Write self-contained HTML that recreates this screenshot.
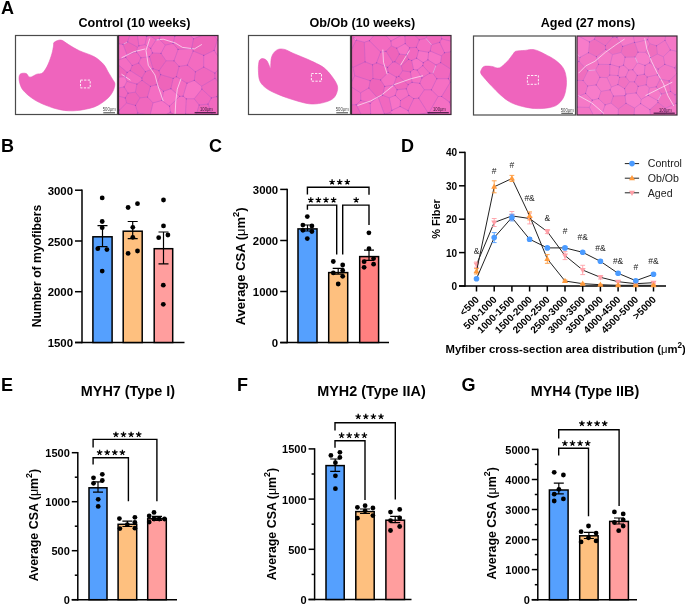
<!DOCTYPE html>
<html><head><meta charset="utf-8"><style>
html,body{margin:0;padding:0;background:#fff;}
svg{display:block;will-change:transform;font-family:"Liberation Sans",sans-serif;}
</style></head><body>
<svg width="685" height="605" viewBox="0 0 685 605" font-family="Liberation Sans, sans-serif">
<rect width="685" height="605" fill="#fff"/>
<text x="1" y="14" font-size="18" font-weight="bold">A</text>
<text x="134.5" y="27.4" font-size="12.6" font-weight="bold" text-anchor="middle">Control (10 weeks)</text>
<text x="362.4" y="27.4" font-size="12.6" font-weight="bold" text-anchor="middle">Ob/Ob (10 weeks)</text>
<text x="587.9" y="27.4" font-size="12.6" font-weight="bold" text-anchor="middle">Aged (27 mons)</text>
<rect x="15.5" y="35.5" width="102.0" height="79.0" fill="#fff" stroke="#4a4a4a" stroke-width="1.2"/>
<path d="M54.2 42.3C55.5 41.3 58.6 39.7 61 40.1C63.4 40.5 65.5 42.8 68.6 44.6C71.6 46.4 75 48.7 79.3 50.7C83.6 52.7 90.4 54.5 94.4 56.8C98.4 59.1 101.2 61.8 103.5 64.3C105.8 66.8 106.6 69.4 108.1 71.9C109.6 74.4 111.6 77.5 112.7 79.5C113.8 81.5 114.9 82.1 114.9 84.1C114.9 86.1 114.1 89.2 112.7 91.7C111.3 94.2 109.6 96.8 106.6 99.3C103.5 101.8 99.5 105 94.4 106.9C89.3 108.8 81.8 110.1 76.2 110.6C70.6 111.1 66 110.8 61 109.9C56 109 50.4 107.1 45.9 105.3C41.4 103.5 37.5 101.8 33.7 99.3C29.9 96.8 25.5 93.2 23.1 90.2C20.7 87.2 19.8 83.7 19.3 81C18.8 78.3 19 75.5 20.1 74.2C21.2 73 24.5 73 26.1 73.5C27.7 74 28.1 77.1 29.9 77.2C31.7 77.3 34.6 75 36.8 74.2C38.9 73.5 40.9 74.4 42.8 72.7C44.7 71 46.6 67.5 48.1 64.3C49.6 61.1 51 56.7 51.9 53.7C52.8 50.7 53.1 48 53.5 46.1C53.9 44.2 53 43.3 54.2 42.3Z" fill="#ef64bd" stroke="#e65bb6" stroke-width="0.6"/>
<rect x="80.5" y="80.1" width="9.700000000000003" height="7.800000000000011" fill="none" stroke="#fff" stroke-width="0.9" stroke-dasharray="2.3 1.3"/>
<text x="115.7" y="111.2" font-size="5" text-anchor="end" fill="#444" textLength="13" lengthAdjust="spacingAndGlyphs">500μm</text>
<line x1="103.3" x2="115.0" y1="112.8" y2="112.8" stroke="#444" stroke-width="1"/>
<clipPath id="c11"><rect x="118.5" y="35.5" width="99.5" height="79.0"/></clipPath>
<g clip-path="url(#c11)">
<rect x="118.5" y="35.5" width="99.5" height="79.0" fill="#f06ac2"/>
<polygon points="128,93.2 124.1,86.9 116.3,88.4 116.2,95.5 125.3,97.9" fill="#f168bf"/><polygon points="174,60.8 166.1,60.8 159,70.7 160.6,74.6 173.2,78.4 176.4,76.7 179.1,66.4" fill="#f067bd"/><polygon points="169.5,106.2 179.7,96.3 183.1,96.2 186.3,98.8 185.5,114 179.3,118.3 170.4,112.1" fill="#f56fc3"/><polygon points="118.8,43.7 114.6,35.1 -889.1,35.1 -905.6,51.4 111.7,51.4" fill="#f46dc2"/><polygon points="140.9,57.8 138.7,63 132.2,65.5 125.7,57.4 127,54.8 136.6,51.9" fill="#f168bf"/><polygon points="214.1,50.4 223.2,64.3 1255.4,64.3 1230.6,40.1 217.5,40.1" fill="#f56fc3"/><polygon points="117.6,116 117.6,1121.6 -888,116" fill="#f067bd"/><polygon points="119.4,114 132.7,118 132.7,1136.9 117.6,1121.6 117.6,116" fill="#f36bc0"/><polygon points="1255.4,64.3 1266.6,75 1254.2,86.9 222.6,86.9 215,78.3 214.9,73.1 223.2,64.3" fill="#f168bf"/><polygon points="179.1,66.4 187.4,65.1 195.4,71.8 194.3,80.4 187,83.2 176.4,76.7" fill="#f168bf"/><polygon points="149.5,56.7 153,68.7 159,70.7 166.1,60.8 161,53.4 152.4,52.9" fill="#ee64ba"/><polygon points="153,102.9 150,115.3 154.4,121.7 170.4,112.1 169.5,106.2 161.8,100.5" fill="#f773c6"/><polygon points="184.8,29.8 184.8,-1006.5 211.1,-979.4 211.1,31.8 193.5,38.8" fill="#f773c6"/><polygon points="137.2,34.2 140.1,32.7 145.7,14.4 145.7,-1000.3 123.2,-977.2 123.2,23.1 130.5,33.4" fill="#ee64ba"/><polygon points="125.7,57.4 118.7,59.9 117.3,64 127.2,72.4 130.2,70.6 132.2,65.5" fill="#f46dc2"/><polygon points="191.7,48.4 193.2,51 203.7,55.4 214.1,50.4 217.5,40.1 211.1,31.8 193.5,38.8" fill="#ee64ba"/><polygon points="194.2,98.8 186.3,98.8 185.5,114 196,115.3 199.2,105" fill="#f46dc2"/><polygon points="163.5,91.3 170.9,88.7 179.7,96.3 169.5,106.2 161.8,100.5" fill="#f773c6"/><polygon points="195.4,71.8 194.3,80.4 201.6,86.2 215,78.3 214.9,73.1 203.7,67.1" fill="#f067bd"/><polygon points="176.4,76.7 187,83.2 183.1,96.2 179.7,96.3 170.9,88.7 173.2,78.4" fill="#f36bc0"/><polygon points="227.2,110.1 1230.4,110.1 217.6,1122.9 217.6,116.1" fill="#f46dc2"/><polygon points="153,102.9 150,115.3 137.8,113 135.5,105.4 139.9,97.9 147.5,97" fill="#f067bd"/><polygon points="154.4,121.7 154.4,1159.2 168.2,1173.9 179.3,1162.2 179.3,118.3 170.4,112.1" fill="#ee64ba"/><polygon points="174,60.8 178.1,49.4 173.1,43.4 165.3,45.1 161,53.4 166.1,60.8" fill="#f46dc2"/><polygon points="156.2,84.8 160.6,74.6 159,70.7 153,68.7 145.4,71.7 141.9,78 142,80.3 150.5,86.4" fill="#ee64ba"/><polygon points="178.1,49.4 191.7,48.4 193.5,38.8 184.8,29.8 174.8,36.2 173.1,43.4" fill="#f168bf"/><polygon points="132.2,65.5 130.2,70.6 141.9,78 145.4,71.7 138.7,63" fill="#ee64ba"/><polygon points="194.2,98.8 201.9,89.1 211.4,97.9 208,104.1 199.2,105" fill="#f168bf"/><polygon points="212,114 199.8,119.5 199.8,1141 217.6,1122.9 217.6,116.1" fill="#f46dc2"/><polygon points="126.6,103 119.5,110 111.1,100.9 116.2,95.5 125.3,97.9" fill="#f168bf"/><polygon points="161.8,31.4 164.5,28.5 164.5,-1019.9 145.7,-1000.3 145.7,14.4 151.5,30.2" fill="#f773c6"/><polygon points="149.5,56.7 153,68.7 145.4,71.7 138.7,63 140.9,57.8" fill="#f36bc0"/><polygon points="127.6,41.8 123.1,44.4 118.8,43.7 114.6,35.1 123.2,23.1 130.5,33.4" fill="#ee64ba"/><polygon points="227.2,110.1 1230.4,110.1 217.6,1122.9 217.6,116.1" fill="#f46dc2"/><polygon points="152.4,52.9 161,53.4 165.3,45.1 159.3,39.1 156.1,39.8 150.7,48.3" fill="#f56fc3"/><polygon points="137.5,47.1 127.6,41.8 123.1,44.4 127,54.8 136.6,51.9" fill="#ee64ba"/><polygon points="174,60.8 178.1,49.4 191.7,48.4 193.2,51 187.4,65.1 179.1,66.4" fill="#f46dc2"/><polygon points="-889.1,35.1 123.2,-977.2 123.2,23.1 114.6,35.1" fill="#ee64ba"/><polygon points="216.8,96.6 222.6,86.9 1254.2,86.9 1230.4,110.1 227.2,110.1" fill="#f56fc3"/><polygon points="150.5,86.4 142,80.3 136.9,84.1 135.4,92.1 139.9,97.9 147.5,97" fill="#ee64ba"/><polygon points="-889.1,35.1 123.2,-977.2 123.2,23.1 114.6,35.1" fill="#f773c6"/><polygon points="127.2,72.4 130.2,70.6 141.9,78 142,80.3 136.9,84.1 126.9,81.4 125.2,76.8" fill="#f36bc0"/><polygon points="159.3,39.1 161.8,31.4 151.5,30.2 149.5,35.5 156.1,39.8" fill="#ee64ba"/><polygon points="156.2,84.8 160.6,74.6 173.2,78.4 170.9,88.7 163.5,91.3" fill="#ee64ba"/><polygon points="217.5,40.1 211.1,31.8 211.1,-979.4 1230.6,40.1" fill="#f46dc2"/><polygon points="217.5,40.1 211.1,31.8 211.1,-979.4 1230.6,40.1" fill="#f46dc2"/><polygon points="150.7,48.3 156.1,39.8 149.5,35.5 146.7,36.5 145,44.6" fill="#f46dc2"/><polygon points="112.3,67.9 -922.7,67.9 -930.1,75 -920.6,84.1 111.9,84.1 116.7,77.2" fill="#f36bc0"/><polygon points="135.4,92.1 136.9,84.1 126.9,81.4 124.1,86.9 128,93.2" fill="#f36bc0"/><polygon points="217.5,40.1 211.1,31.8 211.1,-979.4 1230.6,40.1" fill="#f168bf"/><polygon points="156.2,84.8 163.5,91.3 161.8,100.5 153,102.9 147.5,97 150.5,86.4" fill="#f46dc2"/><polygon points="187.4,65.1 193.2,51 203.7,55.4 203.7,67.1 195.4,71.8" fill="#f36bc0"/><polygon points="-889.1,35.1 123.2,-977.2 123.2,23.1 114.6,35.1" fill="#f56fc3"/><polygon points="117.3,64 118.7,59.9 111.7,51.4 -905.6,51.4 -922.7,67.9 112.3,67.9" fill="#f067bd"/><polygon points="203.7,67.1 214.9,73.1 223.2,64.3 214.1,50.4 203.7,55.4" fill="#f46dc2"/><polygon points="196,115.3 185.5,114 179.3,118.3 179.3,1162.2 199.8,1141 199.8,119.5" fill="#f773c6"/><polygon points="145,44.6 146.7,36.5 140.1,32.7 137.2,34.2 138.9,45.8" fill="#f46dc2"/><polygon points="146.7,36.5 149.5,35.5 151.5,30.2 145.7,14.4 140.1,32.7" fill="#ee64ba"/><polygon points="116.7,77.2 111.9,84.1 116.3,88.4 124.1,86.9 126.9,81.4 125.2,76.8" fill="#f773c6"/><polygon points="150,115.3 137.8,113 132.7,118 132.7,1136.9 154.4,1159.2 154.4,121.7" fill="#f773c6"/><polygon points="117.6,116 117.6,1121.6 -888,116" fill="#f36bc0"/><polygon points="201.9,89.1 201.6,86.2 215,78.3 222.6,86.9 216.8,96.6 211.4,97.9" fill="#f067bd"/><polygon points="173.1,43.4 165.3,45.1 159.3,39.1 161.8,31.4 164.5,28.5 174.8,36.2" fill="#f168bf"/><polygon points="135.5,105.4 137.8,113 132.7,118 119.4,114 119.5,110 126.6,103" fill="#f168bf"/><polygon points="194.2,98.8 186.3,98.8 183.1,96.2 187,83.2 194.3,80.4 201.6,86.2 201.9,89.1" fill="#f773c6"/><polygon points="138.9,45.8 137.2,34.2 130.5,33.4 127.6,41.8 137.5,47.1" fill="#f067bd"/><polygon points="117.3,64 127.2,72.4 125.2,76.8 116.7,77.2 112.3,67.9" fill="#ee64ba"/><polygon points="174.8,36.2 164.5,28.5 164.5,-1019.9 168.2,-1023.9 184.8,-1006.5 184.8,29.8" fill="#f168bf"/><polygon points="211.4,97.9 216.8,96.6 227.2,110.1 217.6,116.1 212,114 208,104.1" fill="#f168bf"/><polygon points="-903.3,100.9 -920.6,84.1 111.9,84.1 116.3,88.4 116.2,95.5 111.1,100.9" fill="#f067bd"/><polygon points="199.2,105 196,115.3 199.8,119.5 212,114 208,104.1" fill="#f067bd"/><polygon points="139.9,97.9 135.5,105.4 126.6,103 125.3,97.9 128,93.2 135.4,92.1" fill="#ee64ba"/><polygon points="125.7,57.4 118.7,59.9 111.7,51.4 118.8,43.7 123.1,44.4 127,54.8" fill="#f46dc2"/><polygon points="119.4,114 119.5,110 111.1,100.9 -903.3,100.9 -888,116 117.6,116" fill="#f46dc2"/><polygon points="149.5,56.7 140.9,57.8 136.6,51.9 137.5,47.1 138.9,45.8 145,44.6 150.7,48.3 152.4,52.9" fill="#f46dc2"/>
<path d="M123.2 23.1L114.6 35.1M149.5 35.5L151.5 30.2M149.5 35.5L156.1 39.8M151.5 30.2L161.8 31.4M161.8 31.4L159.3 39.1M156.1 39.8L159.3 39.1M145.7 14.4L151.5 30.2M164.5 28.5L161.8 31.4M145.7 14.4L140.1 32.7M149.5 35.5L146.7 36.5M140.1 32.7L146.7 36.5M114.6 35.1L118.8 43.7M111.7 51.4L118.8 43.7M123.2 23.1L130.5 33.4M140.1 32.7L137.2 34.2M130.5 33.4L137.2 34.2M118.8 43.7L123.1 44.4M123.1 44.4L127.6 41.8M130.5 33.4L127.6 41.8M179.3 118.3L185.5 114M185.5 114L196 115.3M199.8 119.5L196 115.3M223.2 64.3L214.1 50.4M217.5 40.1L214.1 50.4M215 78.3L222.6 86.9M214.9 73.1L215 78.3M214.9 73.1L223.2 64.3M211.1 31.8L217.5 40.1M111.1 100.9L119.5 110M119.5 110L119.4 114M117.6 116L119.4 114M111.9 84.1L116.3 88.4M116.3 88.4L116.2 95.5M116.2 95.5L111.1 100.9M132.7 118L119.4 114M203.7 55.4L203.7 67.1M203.7 55.4L193.2 51M193.2 51L187.4 65.1M203.7 67.1L195.4 71.8M195.4 71.8L187.4 65.1M214.9 73.1L203.7 67.1M214.1 50.4L203.7 55.4M201.6 86.2L194.3 80.4M215 78.3L201.6 86.2M194.3 80.4L195.4 71.8M193.5 38.8L191.7 48.4M193.5 38.8L184.8 29.8M191.7 48.4L178.1 49.4M184.8 29.8L174.8 36.2M174.8 36.2L173.1 43.4M173.1 43.4L178.1 49.4M211.1 31.8L193.5 38.8M193.2 51L191.7 48.4M164.5 28.5L174.8 36.2M159.3 39.1L165.3 45.1M165.3 45.1L173.1 43.4M185.5 114L186.3 98.8M183.1 96.2L186.3 98.8M179.3 118.3L170.4 112.1M179.7 96.3L169.5 106.2M179.7 96.3L183.1 96.2M170.4 112.1L169.5 106.2M170.4 112.1L154.4 121.7M132.7 118L137.8 113M137.8 113L150 115.3M154.4 121.7L150 115.3M199.8 119.5L212 114M217.6 116.1L212 114M217.6 116.1L227.2 110.1M222.6 86.9L216.8 96.6M227.2 110.1L216.8 96.6M125.2 76.8L127.2 72.4M125.2 76.8L116.7 77.2M127.2 72.4L117.3 64M116.7 77.2L112.3 67.9M112.3 67.9L117.3 64M126.9 81.4L125.2 76.8M126.9 81.4L136.9 84.1M136.9 84.1L142 80.3M130.2 70.6L127.2 72.4M130.2 70.6L141.9 78M141.9 78L142 80.3M111.9 84.1L116.7 77.2M124.1 86.9L116.3 88.4M126.9 81.4L124.1 86.9M111.7 51.4L118.7 59.9M118.7 59.9L117.3 64M145.4 71.7L138.7 63M141.9 78L145.4 71.7M130.2 70.6L132.2 65.5M138.7 63L132.2 65.5M118.7 59.9L125.7 57.4M132.2 65.5L125.7 57.4M123.1 44.4L127 54.8M127 54.8L125.7 57.4M125.3 97.9L128 93.2M125.3 97.9L126.6 103M126.6 103L135.5 105.4M128 93.2L135.4 92.1M135.5 105.4L139.9 97.9M135.4 92.1L139.9 97.9M124.1 86.9L128 93.2M116.2 95.5L125.3 97.9M119.5 110L126.6 103M137.8 113L135.5 105.4M136.9 84.1L135.4 92.1M159 70.7L166.1 60.8M159 70.7L160.6 74.6M160.6 74.6L173.2 78.4M166.1 60.8L174 60.8M173.2 78.4L176.4 76.7M176.4 76.7L179.1 66.4M179.1 66.4L174 60.8M161 53.4L166.1 60.8M161 53.4L165.3 45.1M178.1 49.4L174 60.8M179.7 96.3L170.9 88.7M170.9 88.7L173.2 78.4M183.1 96.2L187 83.2M187 83.2L176.4 76.7M194.3 80.4L187 83.2M187.4 65.1L179.1 66.4M161.8 100.5L153 102.9M161.8 100.5L163.5 91.3M163.5 91.3L156.2 84.8M147.5 97L150.5 86.4M147.5 97L153 102.9M150.5 86.4L156.2 84.8M169.5 106.2L161.8 100.5M150 115.3L153 102.9M170.9 88.7L163.5 91.3M160.6 74.6L156.2 84.8M139.9 97.9L147.5 97M142 80.3L150.5 86.4M145.4 71.7L153 68.7M153 68.7L159 70.7M208 104.1L211.4 97.9M208 104.1L199.2 105M211.4 97.9L201.9 89.1M201.9 89.1L194.2 98.8M199.2 105L194.2 98.8M212 114L208 104.1M216.8 96.6L211.4 97.9M196 115.3L199.2 105M201.6 86.2L201.9 89.1M186.3 98.8L194.2 98.8M136.6 51.9L140.9 57.8M136.6 51.9L137.5 47.1M137.5 47.1L138.9 45.8M138.9 45.8L145 44.6M145 44.6L150.7 48.3M140.9 57.8L149.5 56.7M150.7 48.3L152.4 52.9M152.4 52.9L149.5 56.7M138.7 63L140.9 57.8M127 54.8L136.6 51.9M127.6 41.8L137.5 47.1M137.2 34.2L138.9 45.8M146.7 36.5L145 44.6M156.1 39.8L150.7 48.3M153 68.7L149.5 56.7M161 53.4L152.4 52.9" fill="none" stroke="#b45ac8" stroke-width="0.75" stroke-opacity="0.6"/>
<path d="M111.7 51.4L118.8 43.7M123.1 44.4L127.6 41.8" fill="none" stroke="#f6d0ee" stroke-width="0.8" stroke-opacity="0.7"/>
<path d="M149.8 38.5L146 50.4L148.3 65.3L155 75L157.5 84.6L163.2 101" fill="none" stroke="#f9e4f5" stroke-width="1" stroke-opacity="0.75" stroke-linejoin="round"/>
<path d="M121.5 57.8L133.4 51.9L145.3 48.9" fill="none" stroke="#f9e4f5" stroke-width="1" stroke-opacity="0.75" stroke-linejoin="round"/>
<path d="M121.5 74.2L130.4 80.2" fill="none" stroke="#f9e4f5" stroke-width="1" stroke-opacity="0.75" stroke-linejoin="round"/>
<path d="M181 78.7L177.3 89.1L175.8 101L175.1 114.5" fill="none" stroke="#f9e4f5" stroke-width="1" stroke-opacity="0.75" stroke-linejoin="round"/>
<path d="M155.7 40L163.2 39.2L175.1 42.9L182.5 47.4L194.4 48.9L201.9 44.4" fill="none" stroke="#f9e4f5" stroke-width="1" stroke-opacity="0.75" stroke-linejoin="round"/>
<g fill="#8a40b8" fill-opacity="0.7"><circle cx="149.5" cy="35.5" r="0.6"/><circle cx="156.1" cy="39.8" r="0.6"/><circle cx="159.3" cy="39.1" r="0.6"/><circle cx="146.7" cy="36.5" r="0.6"/><circle cx="214.9" cy="73.1" r="0.6"/><circle cx="185.5" cy="114" r="0.6"/><circle cx="118.8" cy="43.7" r="0.6"/><circle cx="123.1" cy="44.4" r="0.6"/><circle cx="179.7" cy="96.3" r="0.6"/><circle cx="127.6" cy="41.8" r="0.6"/><circle cx="215" cy="78.3" r="0.6"/><circle cx="217.5" cy="40.1" r="0.6"/><circle cx="214.1" cy="50.4" r="0.6"/><circle cx="183.1" cy="96.2" r="0.6"/><circle cx="186.3" cy="98.8" r="0.6"/><circle cx="136.9" cy="84.1" r="0.6"/><circle cx="130.2" cy="70.6" r="0.6"/><circle cx="141.9" cy="78" r="0.6"/><circle cx="142" cy="80.3" r="0.6"/><circle cx="145.4" cy="71.7" r="0.6"/><circle cx="153" cy="68.7" r="0.6"/><circle cx="170.9" cy="88.7" r="0.6"/><circle cx="124.1" cy="86.9" r="0.6"/><circle cx="137.8" cy="113" r="0.6"/><circle cx="119.5" cy="110" r="0.6"/><circle cx="119.4" cy="114" r="0.6"/><circle cx="194.3" cy="80.4" r="0.6"/><circle cx="187" cy="83.2" r="0.6"/><circle cx="203.7" cy="55.4" r="0.6"/><circle cx="193.2" cy="51" r="0.6"/><circle cx="203.7" cy="67.1" r="0.6"/><circle cx="195.4" cy="71.8" r="0.6"/><circle cx="187.4" cy="65.1" r="0.6"/><circle cx="161" cy="53.4" r="0.6"/><circle cx="193.5" cy="38.8" r="0.6"/><circle cx="191.7" cy="48.4" r="0.6"/><circle cx="174.8" cy="36.2" r="0.6"/><circle cx="173.1" cy="43.4" r="0.6"/><circle cx="178.1" cy="49.4" r="0.6"/><circle cx="170.4" cy="112.1" r="0.6"/><circle cx="169.5" cy="106.2" r="0.6"/><circle cx="212" cy="114" r="0.6"/><circle cx="216.8" cy="96.6" r="0.6"/><circle cx="125.2" cy="76.8" r="0.6"/><circle cx="127.2" cy="72.4" r="0.6"/><circle cx="138.7" cy="63" r="0.6"/><circle cx="132.2" cy="65.5" r="0.6"/><circle cx="125.7" cy="57.4" r="0.6"/><circle cx="125.3" cy="97.9" r="0.6"/><circle cx="128" cy="93.2" r="0.6"/><circle cx="135.5" cy="105.4" r="0.6"/><circle cx="159" cy="70.7" r="0.6"/><circle cx="160.6" cy="74.6" r="0.6"/><circle cx="173.2" cy="78.4" r="0.6"/><circle cx="176.4" cy="76.7" r="0.6"/><circle cx="179.1" cy="66.4" r="0.6"/><circle cx="174" cy="60.8" r="0.6"/><circle cx="161.8" cy="100.5" r="0.6"/><circle cx="163.5" cy="91.3" r="0.6"/><circle cx="147.5" cy="97" r="0.6"/><circle cx="150.5" cy="86.4" r="0.6"/><circle cx="156.2" cy="84.8" r="0.6"/><circle cx="208" cy="104.1" r="0.6"/><circle cx="211.4" cy="97.9" r="0.6"/><circle cx="201.9" cy="89.1" r="0.6"/><circle cx="199.2" cy="105" r="0.6"/><circle cx="136.6" cy="51.9" r="0.6"/><circle cx="138.9" cy="45.8" r="0.6"/><circle cx="140.9" cy="57.8" r="0.6"/><circle cx="150.7" cy="48.3" r="0.6"/><circle cx="152.4" cy="52.9" r="0.6"/><circle cx="149.5" cy="56.7" r="0.6"/></g>
</g>
<rect x="118.5" y="35.5" width="99.5" height="79.0" fill="none" stroke="#3a2a35" stroke-width="1.2"/>
<text x="212.8" y="111.4" font-size="5" text-anchor="end" fill="#3a1838" textLength="12.8" lengthAdjust="spacingAndGlyphs">100μm</text>
<line x1="194.6" x2="215.8" y1="112.7" y2="112.7" stroke="#4a1a44" stroke-width="1.2"/>
<rect x="248.5" y="35.5" width="102.0" height="79.0" fill="#fff" stroke="#4a4a4a" stroke-width="1.2"/>
<path d="M259.9 59.8C260.6 59.1 261.8 58.5 262.9 58.6C264 58.7 265.7 59.4 266.7 60.5C267.7 61.6 268.4 63.8 269 65.1C269.6 66.4 270.1 69.2 270.5 68.1C270.9 67 270.7 60.9 271.3 58.3C271.9 55.6 273 53.7 274.3 52.2C275.6 50.7 277.1 49.7 278.9 49.2C280.7 48.8 282.6 48.9 284.9 49.5C287.2 50.1 289.7 51.8 292.5 53C295.3 54.2 298.1 55.3 301.6 56.8C305.2 58.3 310 60.2 313.8 62.1C317.6 64 321.4 65.7 324.4 68.1C327.4 70.5 329.9 73.6 332 76.5C334.1 79.4 336.5 82.8 337.3 85.6C338.1 88.4 337.5 90.9 336.6 93.2C335.7 95.5 334.5 97.7 332 99.3C329.5 100.9 325.2 102.3 321.4 103.1C317.6 103.8 313.8 104.3 309.2 103.8C304.6 103.3 299.1 101.5 294 100C288.9 98.5 283.4 96.6 278.9 94.7C274.3 92.8 269.9 90.9 266.7 88.6C263.5 86.3 261.3 84 259.9 81C258.5 78 258.6 73.4 258.4 70.4C258.2 67.4 258.6 64.6 258.8 62.8C259.1 61 259.2 60.5 259.9 59.8Z" fill="#ef64bd" stroke="#e65bb6" stroke-width="0.6"/>
<rect x="311.4" y="73.5" width="10.100000000000023" height="7.700000000000003" fill="none" stroke="#fff" stroke-width="0.9" stroke-dasharray="2.3 1.3"/>
<text x="348.7" y="111.2" font-size="5" text-anchor="end" fill="#444" textLength="13" lengthAdjust="spacingAndGlyphs">500μm</text>
<line x1="336.3" x2="348.0" y1="112.8" y2="112.8" stroke="#444" stroke-width="1"/>
<clipPath id="c22"><rect x="351.5" y="35.5" width="99.5" height="79.0"/></clipPath>
<g clip-path="url(#c22)">
<rect x="351.5" y="35.5" width="99.5" height="79.0" fill="#f06ac2"/>
<polygon points="389.2,97.8 391.9,110.3 390.3,112.5 384.4,114.2 378.3,97.5 382.5,95.2" fill="#f168bf"/><polygon points="370.7,114.2 361.8,115.6 356.2,104.7 360.8,100.4 370.2,103.3" fill="#f36bc0"/><polygon points="351.4,104.8 343.6,112.2 355,124.5 361.8,115.6 356.2,104.7" fill="#ee64ba"/><polygon points="423.3,62.7 427.9,59.8 428.6,52.3 418.6,50.6 416.6,58.2" fill="#f773c6"/><polygon points="389.2,97.8 395.2,95.4 397.1,89.7 393.7,85.2 384.7,86.4 382.5,95.2" fill="#f56fc3"/><polygon points="454.8,42.2 451,51.7 461.2,63.4 1487.5,63.4 1462.3,38.8 459.6,38.8" fill="#f773c6"/><polygon points="441.5,55.9 440.6,62.6 451.3,69.5 461.2,63.4 451,51.7 444.5,52.7" fill="#ee64ba"/><polygon points="441.6,96.5 438.1,96.5 428.8,113.1 428.9,113.2 449,115.5 452.4,111.8 449.4,102" fill="#f56fc3"/><polygon points="351.4,104.8 343.6,112.2 -658.8,112.2 -682.5,89 343.4,89" fill="#ee64ba"/><polygon points="413.8,98.6 408.1,110.6 400.1,106.5 400.5,100.5 408.9,95.4" fill="#f36bc0"/><polygon points="416.4,47.3 419.3,39.8 412.8,33.3 404.9,35.8 405.2,43.6 409.6,47.8" fill="#f168bf"/><polygon points="343.6,112.2 -658.8,112.2 355,1126 355,124.5" fill="#f36bc0"/><polygon points="393.7,85.2 396.4,77.1 398.8,76.4 408.2,84.6 406.3,88.8 397.1,89.7" fill="#f067bd"/><polygon points="388.2,72.4 380.6,79.9 373,78.5 372.5,64.8 376.6,62.8 387.6,67.3" fill="#f067bd"/><polygon points="378.8,119.5 378.8,1150.3 355,1126 355,124.5 361.8,115.6 370.7,114.2" fill="#f36bc0"/><polygon points="428,33.8 439.7,31.1 439.7,-983.9 419.3,-1004.9 419.3,12.3" fill="#f067bd"/><polygon points="394.8,61.7 399.4,54 396.7,48.2 391.4,45.9 386,51.3 392.8,62" fill="#ee64ba"/><polygon points="354,37.9 -658.9,37.9 354,-975" fill="#f36bc0"/><polygon points="387.6,67.3 392.8,62 386,51.3 380.6,52 376.6,62.8" fill="#f36bc0"/><polygon points="452.4,111.8 1461.7,111.8 449,1124.5 449,115.5" fill="#f56fc3"/><polygon points="391.4,45.9 390.9,41 386.4,35.9 375.1,34.1 369.4,40.7 380.6,52 386,51.3" fill="#f36bc0"/><polygon points="368.8,88 360.6,92.8 360.8,100.4 370.2,103.3 377.2,97.5" fill="#f46dc2"/><polygon points="349.6,85.9 343.4,89 -682.5,89 -697.1,75 -683.8,62.3 345.3,62.3 353,67.4 354.7,75.7" fill="#f36bc0"/><polygon points="408.6,59.4 406.4,54.9 399.4,54 394.8,61.7 401.3,65.8" fill="#ee64ba"/><polygon points="427.9,112.7 410.5,116.1 404.9,127.8 404.9,1170 428.9,1145 428.9,113.2 428.8,113.1" fill="#f46dc2"/><polygon points="354,37.9 -658.9,37.9 354,-975" fill="#f168bf"/><polygon points="441.5,55.9 430.2,51 431.5,44.8 439.7,42.3 444.5,52.7" fill="#f36bc0"/><polygon points="408.2,84.6 412.1,82.3 410.4,71.9 402.6,70.8 398.8,76.4" fill="#f168bf"/><polygon points="436.1,65 432.9,73.3 436.8,78.7 448.4,78.7 451.3,69.5 440.6,62.6" fill="#f168bf"/><polygon points="410.4,71.9 402.6,70.8 401.3,65.8 408.6,59.4 411.7,60.5 413.5,69.5" fill="#ee64ba"/><polygon points="428.9,113.2 428.9,1145 449,1124.5 449,115.5" fill="#f067bd"/><polygon points="388.2,72.4 396.4,77.1 393.7,85.2 384.7,86.4 380.6,79.9" fill="#f56fc3"/><polygon points="368.8,88 360.6,92.8 349.6,85.9 354.7,75.7 370.2,80.7" fill="#f36bc0"/><polygon points="424.3,89.8 431.4,89.8 436.8,78.7 432.9,73.3 429.7,73.2 421.9,77.9 419.8,83.3" fill="#f46dc2"/><polygon points="444.5,52.7 451,51.7 454.8,42.2 441.7,38.8 439.7,42.3" fill="#f46dc2"/><polygon points="439.7,42.3 441.7,38.8 440.7,32.4 439.7,31.1 428,33.8 425.9,38.3 431.5,44.8" fill="#f067bd"/><polygon points="389.2,97.8 391.9,110.3 400.1,106.5 400.5,100.5 395.2,95.4" fill="#f773c6"/><polygon points="349.6,85.9 343.4,89 351.4,104.8 356.2,104.7 360.8,100.4 360.6,92.8" fill="#f36bc0"/><polygon points="384.4,114.2 390.3,112.5 404.9,127.8 404.9,1170 401.3,1173.9 378.8,1150.3 378.8,119.5" fill="#f067bd"/><polygon points="411.7,60.5 416.6,58.2 418.6,50.6 416.4,47.3 409.6,47.8 406.4,54.9 408.6,59.4" fill="#f168bf"/><polygon points="413.5,69.5 417.2,70 422.8,65.6 423.3,62.7 416.6,58.2 411.7,60.5" fill="#f773c6"/><polygon points="345.3,62.3 -683.8,62.3 -658.9,37.9 354,37.9 356.2,40.1" fill="#f168bf"/><polygon points="450.3,82.2 448.4,78.7 451.3,69.5 461.2,63.4 1487.5,63.4 1499.6,75 1485.1,88.9 463.1,88.9" fill="#f067bd"/><polygon points="453.4,30.9 453.4,-970.1 1462.3,38.8 459.6,38.8" fill="#f067bd"/><polygon points="424.3,89.8 431.4,89.8 438.1,96.5 428.8,113.1 427.9,112.7 418.7,98.1" fill="#f46dc2"/><polygon points="452.4,111.8 1461.7,111.8 449,1124.5 449,115.5" fill="#f773c6"/><polygon points="425.9,38.3 428,33.8 419.3,12.3 412.8,33.3 419.3,39.8" fill="#f067bd"/><polygon points="397.1,89.7 406.3,88.8 408.9,95.4 400.5,100.5 395.2,95.4" fill="#f56fc3"/><polygon points="364.3,42.2 356.2,40.1 345.3,62.3 353,67.4 365.1,61.8" fill="#ee64ba"/><polygon points="422.8,65.6 429.7,73.2 421.9,77.9 417.2,70" fill="#f46dc2"/><polygon points="430.2,51 428.6,52.3 418.6,50.6 416.4,47.3 419.3,39.8 425.9,38.3 431.5,44.8" fill="#f46dc2"/><polygon points="450.3,82.2 441.6,96.5 449.4,102 463.1,88.9" fill="#f168bf"/><polygon points="450.3,82.2 448.4,78.7 436.8,78.7 431.4,89.8 438.1,96.5 441.6,96.5" fill="#f56fc3"/><polygon points="375.1,34.1 375.1,-996.5 396.3,-1018.6 396.3,21.8 386.4,35.9" fill="#ee64ba"/><polygon points="441.7,38.8 454.8,42.2 459.6,38.8 453.4,30.9 440.7,32.4" fill="#f36bc0"/><polygon points="463.1,88.9 1485.1,88.9 1461.7,111.8 452.4,111.8 449.4,102" fill="#ee64ba"/><polygon points="402.8,34.6 396.3,21.8 386.4,35.9 390.9,41" fill="#f773c6"/><polygon points="412.1,82.3 410.4,71.9 413.5,69.5 417.2,70 421.9,77.9 419.8,83.3" fill="#f56fc3"/><polygon points="406.3,88.8 408.9,95.4 413.8,98.6 418.7,98.1 424.3,89.8 419.8,83.3 412.1,82.3 408.2,84.6" fill="#f56fc3"/><polygon points="396.7,48.2 405.2,43.6 404.9,35.8 402.8,34.6 390.9,41 391.4,45.9" fill="#f56fc3"/><polygon points="388.2,72.4 396.4,77.1 398.8,76.4 402.6,70.8 401.3,65.8 394.8,61.7 392.8,62 387.6,67.3" fill="#f168bf"/><polygon points="372.5,64.8 365.1,61.8 353,67.4 354.7,75.7 370.2,80.7 373,78.5" fill="#f067bd"/><polygon points="369.4,40.7 375.1,34.1 375.1,-996.5 354,-975 354,37.9 356.2,40.1 364.3,42.2" fill="#f773c6"/><polygon points="378.3,97.5 384.4,114.2 378.8,119.5 370.7,114.2 370.2,103.3 377.2,97.5" fill="#f773c6"/><polygon points="404.9,35.8 412.8,33.3 419.3,12.3 419.3,-1004.9 401.3,-1023.9 396.3,-1018.6 396.3,21.8 402.8,34.6" fill="#f168bf"/><polygon points="413.8,98.6 408.1,110.6 410.5,116.1 427.9,112.7 418.7,98.1" fill="#f46dc2"/><polygon points="441.5,55.9 440.6,62.6 436.1,65 427.9,59.8 428.6,52.3 430.2,51" fill="#f773c6"/><polygon points="376.6,62.8 380.6,52 369.4,40.7 364.3,42.2 365.1,61.8 372.5,64.8" fill="#f36bc0"/><polygon points="399.4,54 406.4,54.9 409.6,47.8 405.2,43.6 396.7,48.2" fill="#f773c6"/><polygon points="400.1,106.5 391.9,110.3 390.3,112.5 404.9,127.8 410.5,116.1 408.1,110.6" fill="#f773c6"/><polygon points="343.6,112.2 -658.8,112.2 355,1126 355,124.5" fill="#f36bc0"/><polygon points="453.4,30.9 453.4,-970.1 1462.3,38.8 459.6,38.8" fill="#f168bf"/><polygon points="380.6,79.9 384.7,86.4 382.5,95.2 378.3,97.5 377.2,97.5 368.8,88 370.2,80.7 373,78.5" fill="#ee64ba"/><polygon points="440.7,32.4 439.7,31.1 439.7,-983.9 453.4,-970.1 453.4,30.9" fill="#f56fc3"/><polygon points="422.8,65.6 423.3,62.7 427.9,59.8 436.1,65 432.9,73.3 429.7,73.2" fill="#f36bc0"/>
<path d="M354 37.9L356.2 40.1M356.2 40.1L345.3 62.3M396.3 21.8L386.4 35.9M386.4 35.9L375.1 34.1M356.2 40.1L364.3 42.2M353 67.4L365.1 61.8M345.3 62.3L353 67.4M365.1 61.8L364.3 42.2M375.1 34.1L369.4 40.7M364.3 42.2L369.4 40.7M355 124.5L343.6 112.2M343.6 112.2L351.4 104.8M343.4 89L351.4 104.8M355 124.5L361.8 115.6M361.8 115.6L356.2 104.7M356.2 104.7L351.4 104.8M439.7 31.1L428 33.8M419.3 12.3L428 33.8M449 115.5L428.9 113.2M449 115.5L452.4 111.8M419.3 12.3L412.8 33.3M412.8 33.3L419.3 39.8M428 33.8L425.9 38.3M419.3 39.8L425.9 38.3M360.8 100.4L360.6 92.8M356.2 104.7L360.8 100.4M343.4 89L349.6 85.9M360.6 92.8L349.6 85.9M353 67.4L354.7 75.7M354.7 75.7L349.6 85.9M396.3 21.8L402.8 34.6M386.4 35.9L390.9 41M390.9 41L402.8 34.6M412.8 33.3L404.9 35.8M402.8 34.6L404.9 35.8M459.6 38.8L454.8 42.2M459.6 38.8L453.4 30.9M454.8 42.2L441.7 38.8M453.4 30.9L440.7 32.4M440.7 32.4L441.7 38.8M461.2 63.4L451 51.7M451 51.7L454.8 42.2M439.7 31.1L440.7 32.4M405.2 43.6L404.9 35.8M419.3 39.8L416.4 47.3M405.2 43.6L409.6 47.8M409.6 47.8L416.4 47.3M448.4 78.7L436.8 78.7M432.9 73.3L436.8 78.7M432.9 73.3L436.1 65M451.3 69.5L440.6 62.6M451.3 69.5L448.4 78.7M440.6 62.6L436.1 65M361.8 115.6L370.7 114.2M360.8 100.4L370.2 103.3M370.2 103.3L370.7 114.2M370.7 114.2L378.8 119.5M404.9 127.8L390.3 112.5M390.3 112.5L384.4 114.2M378.8 119.5L384.4 114.2M386 51.3L391.4 45.9M386 51.3L392.8 62M391.4 45.9L396.7 48.2M396.7 48.2L399.4 54M399.4 54L394.8 61.7M392.8 62L394.8 61.7M380.6 52L369.4 40.7M380.6 52L386 51.3M390.9 41L391.4 45.9M405.2 43.6L396.7 48.2M409.6 47.8L406.4 54.9M406.4 54.9L399.4 54M428.6 52.3L427.9 59.8M427.9 59.8L423.3 62.7M418.6 50.6L428.6 52.3M418.6 50.6L416.6 58.2M416.6 58.2L423.3 62.7M421.9 77.9L429.7 73.2M421.9 77.9L417.2 70M429.7 73.2L422.8 65.6M417.2 70L422.8 65.6M432.9 73.3L429.7 73.2M423.3 62.7L422.8 65.6M427.9 59.8L436.1 65M404.9 127.8L410.5 116.1M428.9 113.2L428.8 113.1M410.5 116.1L427.9 112.7M428.8 113.1L427.9 112.7M449.4 102L441.6 96.5M449.4 102L463.1 88.9M441.6 96.5L450.3 82.2M463.1 88.9L450.3 82.2M452.4 111.8L449.4 102M438.1 96.5L428.8 113.1M438.1 96.5L441.6 96.5M431.4 89.8L438.1 96.5M436.8 78.7L431.4 89.8M448.4 78.7L450.3 82.2M461.2 63.4L451.3 69.5M431.5 44.8L430.2 51M431.5 44.8L439.7 42.3M430.2 51L441.5 55.9M439.7 42.3L444.5 52.7M444.5 52.7L441.5 55.9M425.9 38.3L431.5 44.8M416.4 47.3L418.6 50.6M428.6 52.3L430.2 51M441.7 38.8L439.7 42.3M440.6 62.6L441.5 55.9M451 51.7L444.5 52.7M370.2 103.3L377.2 97.5M384.4 114.2L378.3 97.5M377.2 97.5L378.3 97.5M360.6 92.8L368.8 88M377.2 97.5L368.8 88M354.7 75.7L370.2 80.7M370.2 80.7L368.8 88M401.3 65.8L402.6 70.8M401.3 65.8L408.6 59.4M402.6 70.8L410.4 71.9M408.6 59.4L411.7 60.5M411.7 60.5L413.5 69.5M413.5 69.5L410.4 71.9M394.8 61.7L401.3 65.8M406.4 54.9L408.6 59.4M416.6 58.2L411.7 60.5M417.2 70L413.5 69.5M390.3 112.5L391.9 110.3M410.5 116.1L408.1 110.6M391.9 110.3L400.1 106.5M408.1 110.6L400.1 106.5M408.1 110.6L413.8 98.6M400.1 106.5L400.5 100.5M400.5 100.5L408.9 95.4M408.9 95.4L413.8 98.6M431.4 89.8L424.3 89.8M427.9 112.7L418.7 98.1M418.7 98.1L424.3 89.8M418.7 98.1L413.8 98.6M421.9 77.9L419.8 83.3M419.8 83.3L424.3 89.8M410.4 71.9L412.1 82.3M419.8 83.3L412.1 82.3M412.1 82.3L408.2 84.6M402.6 70.8L398.8 76.4M398.8 76.4L408.2 84.6M408.9 95.4L406.3 88.8M408.2 84.6L406.3 88.8M395.2 95.4L389.2 97.8M395.2 95.4L397.1 89.7M397.1 89.7L393.7 85.2M393.7 85.2L384.7 86.4M384.7 86.4L382.5 95.2M382.5 95.2L389.2 97.8M391.9 110.3L389.2 97.8M400.5 100.5L395.2 95.4M406.3 88.8L397.1 89.7M398.8 76.4L396.4 77.1M396.4 77.1L393.7 85.2M378.3 97.5L382.5 95.2M373 78.5L380.6 79.9M373 78.5L372.5 64.8M380.6 79.9L388.2 72.4M372.5 64.8L376.6 62.8M376.6 62.8L387.6 67.3M387.6 67.3L388.2 72.4M370.2 80.7L373 78.5M384.7 86.4L380.6 79.9M365.1 61.8L372.5 64.8M396.4 77.1L388.2 72.4M380.6 52L376.6 62.8M392.8 62L387.6 67.3" fill="none" stroke="#b45ac8" stroke-width="0.75" stroke-opacity="0.6"/>
<path d="M432.9 73.3L436.1 65M354 37.9L356.2 40.1M425.9 38.3L431.5 44.8" fill="none" stroke="#f6d0ee" stroke-width="0.8" stroke-opacity="0.7"/>
<path d="M357.5 105.5L370.5 101L381.5 95.1L394.5 84.5L411.1 78.7L423 75.7" fill="none" stroke="#f9e4f5" stroke-width="1" stroke-opacity="0.75" stroke-linejoin="round"/>
<path d="M382.8 49.6L383.5 62.3L387.2 74.2" fill="none" stroke="#f9e4f5" stroke-width="1" stroke-opacity="0.75" stroke-linejoin="round"/>
<path d="M400.5 65.3L409.5 50.5" fill="none" stroke="#f9e4f5" stroke-width="1" stroke-opacity="0.75" stroke-linejoin="round"/>
<g fill="#8a40b8" fill-opacity="0.7"><circle cx="354" cy="37.9" r="0.6"/><circle cx="356.2" cy="40.1" r="0.6"/><circle cx="365.1" cy="61.8" r="0.6"/><circle cx="380.6" cy="52" r="0.6"/><circle cx="369.4" cy="40.7" r="0.6"/><circle cx="356.2" cy="104.7" r="0.6"/><circle cx="360.8" cy="100.4" r="0.6"/><circle cx="451" cy="51.7" r="0.6"/><circle cx="428.9" cy="113.2" r="0.6"/><circle cx="419.3" cy="39.8" r="0.6"/><circle cx="390.9" cy="41" r="0.6"/><circle cx="405.2" cy="43.6" r="0.6"/><circle cx="404.9" cy="35.8" r="0.6"/><circle cx="441.7" cy="38.8" r="0.6"/><circle cx="409.6" cy="47.8" r="0.6"/><circle cx="416.4" cy="47.3" r="0.6"/><circle cx="418.6" cy="50.6" r="0.6"/><circle cx="406.4" cy="54.9" r="0.6"/><circle cx="448.4" cy="78.7" r="0.6"/><circle cx="436.8" cy="78.7" r="0.6"/><circle cx="428.6" cy="52.3" r="0.6"/><circle cx="427.9" cy="59.8" r="0.6"/><circle cx="440.6" cy="62.6" r="0.6"/><circle cx="436.1" cy="65" r="0.6"/><circle cx="370.2" cy="103.3" r="0.6"/><circle cx="370.7" cy="114.2" r="0.6"/><circle cx="384.4" cy="114.2" r="0.6"/><circle cx="386" cy="51.3" r="0.6"/><circle cx="396.7" cy="48.2" r="0.6"/><circle cx="399.4" cy="54" r="0.6"/><circle cx="392.8" cy="62" r="0.6"/><circle cx="394.8" cy="61.7" r="0.6"/><circle cx="416.6" cy="58.2" r="0.6"/><circle cx="423.3" cy="62.7" r="0.6"/><circle cx="421.9" cy="77.9" r="0.6"/><circle cx="429.7" cy="73.2" r="0.6"/><circle cx="417.2" cy="70" r="0.6"/><circle cx="422.8" cy="65.6" r="0.6"/><circle cx="431.4" cy="89.8" r="0.6"/><circle cx="428.8" cy="113.1" r="0.6"/><circle cx="427.9" cy="112.7" r="0.6"/><circle cx="449.4" cy="102" r="0.6"/><circle cx="441.6" cy="96.5" r="0.6"/><circle cx="450.3" cy="82.2" r="0.6"/><circle cx="430.2" cy="51" r="0.6"/><circle cx="439.7" cy="42.3" r="0.6"/><circle cx="444.5" cy="52.7" r="0.6"/><circle cx="370.2" cy="80.7" r="0.6"/><circle cx="368.8" cy="88" r="0.6"/><circle cx="408.6" cy="59.4" r="0.6"/><circle cx="411.7" cy="60.5" r="0.6"/><circle cx="413.5" cy="69.5" r="0.6"/><circle cx="410.4" cy="71.9" r="0.6"/><circle cx="391.9" cy="110.3" r="0.6"/><circle cx="408.1" cy="110.6" r="0.6"/><circle cx="400.1" cy="106.5" r="0.6"/><circle cx="400.5" cy="100.5" r="0.6"/><circle cx="408.9" cy="95.4" r="0.6"/><circle cx="418.7" cy="98.1" r="0.6"/><circle cx="413.8" cy="98.6" r="0.6"/><circle cx="419.8" cy="83.3" r="0.6"/><circle cx="412.1" cy="82.3" r="0.6"/><circle cx="398.8" cy="76.4" r="0.6"/><circle cx="396.4" cy="77.1" r="0.6"/><circle cx="408.2" cy="84.6" r="0.6"/><circle cx="406.3" cy="88.8" r="0.6"/><circle cx="395.2" cy="95.4" r="0.6"/><circle cx="397.1" cy="89.7" r="0.6"/><circle cx="393.7" cy="85.2" r="0.6"/><circle cx="384.7" cy="86.4" r="0.6"/><circle cx="382.5" cy="95.2" r="0.6"/><circle cx="373" cy="78.5" r="0.6"/><circle cx="380.6" cy="79.9" r="0.6"/><circle cx="372.5" cy="64.8" r="0.6"/><circle cx="376.6" cy="62.8" r="0.6"/><circle cx="387.6" cy="67.3" r="0.6"/><circle cx="388.2" cy="72.4" r="0.6"/></g>
</g>
<rect x="351.5" y="35.5" width="99.5" height="79.0" fill="none" stroke="#3a2a35" stroke-width="1.2"/>
<text x="445.8" y="111.4" font-size="5" text-anchor="end" fill="#3a1838" textLength="12.8" lengthAdjust="spacingAndGlyphs">100μm</text>
<line x1="427.6" x2="448.8" y1="112.7" y2="112.7" stroke="#4a1a44" stroke-width="1.2"/>
<rect x="473.5" y="36" width="102.0" height="79" fill="#fff" stroke="#4a4a4a" stroke-width="1.2"/>
<path d="M481.1 70.2C481.7 69.1 482.3 67 484.1 66.4C485.9 65.8 489.2 66.2 491.7 66.4C494.2 66.7 496.8 68.7 499.3 67.9C501.8 67.1 504.6 64.1 506.9 61.8C509.2 59.5 511.5 56 513 54.2C514.5 52.4 514 51.8 516 51.2C518 50.6 522.1 50.6 525.1 50.4C528.1 50.1 530.9 49.1 534.2 49.7C537.5 50.3 541.4 52.4 544.9 54.2C548.4 56 552.5 58 555.5 60.3C558.5 62.6 561.3 65.1 563.1 67.9C564.9 70.7 565.6 73.7 566.1 77C566.6 80.3 566.6 84.1 566.1 87.6C565.6 91.1 564.9 95.2 563.1 98.2C561.3 101.2 559 104.1 555.5 105.8C552 107.5 546.6 108.2 541.8 108.5C537 108.8 531.6 108.4 526.6 107.4C521.6 106.5 515.8 104.8 511.5 102.8C507.2 100.8 504.1 98 500.8 95.2C497.5 92.4 494.5 89 491.7 86.1C488.9 83.2 485.9 79.8 484.1 77.7C482.3 75.6 481.3 74.5 480.8 73.2C480.3 72 480.6 71.3 481.1 70.2Z" fill="#ef64bd" stroke="#e65bb6" stroke-width="0.6"/>
<rect x="527.4" y="75.5" width="11.0" height="8.799999999999997" fill="none" stroke="#fff" stroke-width="0.9" stroke-dasharray="2.3 1.3"/>
<text x="573.7" y="111.7" font-size="5" text-anchor="end" fill="#444" textLength="13" lengthAdjust="spacingAndGlyphs">500μm</text>
<line x1="561.3" x2="573.0" y1="113.3" y2="113.3" stroke="#444" stroke-width="1"/>
<clipPath id="c33"><rect x="577" y="36" width="100" height="79"/></clipPath>
<g clip-path="url(#c33)">
<rect x="577" y="36" width="100" height="79" fill="#f06ac2"/>
<polygon points="611.4,87 617.9,84.6 624.6,88.6 625.9,94.1 625,95.6 613.4,96 610.1,89.8" fill="#f773c6"/><polygon points="647.6,39.7 634.8,42.7 634.5,42.4 633.2,35.6 646,24 649.5,31.8" fill="#f46dc2"/><polygon points="695.3,46.8 1695.8,46.8 671.7,-977.3 671.7,29.4" fill="#f36bc0"/><polygon points="605.4,45.7 594.5,39.1 589.5,41.9 588.5,52.7 596.4,56.6 605.7,49.4" fill="#ee64ba"/><polygon points="632.8,69.7 637.5,62.8 645,65.4 644.3,74.2 637.3,75.4" fill="#f773c6"/><polygon points="609.9,64.5 598.5,64.3 595.5,69.9 599.9,77.3 607.1,77.7 609.7,75" fill="#f168bf"/><polygon points="665,40.3 670.3,49.9 663.4,56.7 657.4,54.1 656.5,45.8" fill="#f36bc0"/><polygon points="625.9,94.1 636.2,92.9 638.2,86.4 634.5,81.8 629.5,81.8 624.6,88.6" fill="#f36bc0"/><polygon points="585.6,93.4 592.3,100.2 598.5,98.6 601,91.4 596.2,84.9 587.6,86" fill="#f773c6"/><polygon points="638,52.2 634.8,42.7 634.5,42.4 622.6,46.4 621.1,52.5 625.1,57.2 635,57" fill="#ee64ba"/><polygon points="595.5,69.9 587.9,70.7 578.9,61.4 580,57.3 588.5,52.7 596.4,56.6 598.5,64.3" fill="#f36bc0"/><polygon points="576.1,1122.1 -433.1,112.9 573.2,112.9 576.1,117.3" fill="#f168bf"/><polygon points="578.9,61.4 587.9,70.7 583.1,80.5 577.3,80.4 569.2,67.9" fill="#ee64ba"/><polygon points="611,103.1 605.1,104.8 602,114.2 609.9,121.2 618.2,114.6 618.3,109.1" fill="#f773c6"/><polygon points="577.2,107.1 576.3,97.2 567.7,91 -455.5,91 -433.1,112.9 573.2,112.9" fill="#f36bc0"/><polygon points="656.3,86.8 661.4,94 670.6,91.5 669.1,80.9 660.2,79" fill="#f067bd"/><polygon points="664.3,116.5 650.5,117.7 649.9,109.6 658,102.5 665.7,108.2" fill="#ee64ba"/><polygon points="581.9,16.2 581.9,-976.9 -437.3,42.3 567.1,42.3 577.5,35.5" fill="#ee64ba"/><polygon points="632.8,69.7 637.3,75.4 634.5,81.8 629.5,81.8 625.7,76.8 628.7,70" fill="#f46dc2"/><polygon points="618.2,114.6 609.9,121.2 609.9,1156.7 627,1174.7 628.4,1173.2 628.4,119.8" fill="#f46dc2"/><polygon points="609.7,75 607.1,77.7 611.4,87 617.9,84.6 619.6,77.3 618,75.6" fill="#f46dc2"/><polygon points="581.9,16.2 581.9,-976.9 -437.3,42.3 567.1,42.3 577.5,35.5" fill="#f36bc0"/><polygon points="671.8,127.5 671.8,1128.2 1690,110 684.9,110" fill="#f168bf"/><polygon points="610.1,89.8 601,91.4 598.5,98.6 605.1,104.8 611,103.1 613.4,96" fill="#f36bc0"/><polygon points="682.7,52.7 695.3,46.8 1695.8,46.8 1725.6,75.5 1719.4,81.4 695.4,81.4 676.9,73.5 674.8,67.8" fill="#f067bd"/><polygon points="605.4,45.7 612.8,37.1 616.9,37.4 622.6,46.4 621.1,52.5 612.5,54.6 605.7,49.4" fill="#ee64ba"/><polygon points="595.5,35.9 581.9,16.2 581.9,-976.9 605.2,-1000.8 605.2,27.1" fill="#f56fc3"/><polygon points="591.4,1137.7 609.9,1156.7 609.9,121.2 602,114.2 593.6,115.5 591.4,118.9" fill="#f36bc0"/><polygon points="598.5,98.6 605.1,104.8 602,114.2 593.6,115.5 589.4,107.4 592.3,100.2" fill="#f773c6"/><polygon points="649.8,43.7 656.5,45.8 665,40.3 665.7,36 649.5,31.8 647.6,39.7" fill="#f36bc0"/><polygon points="665,40.3 670.3,49.9 682.7,52.7 695.3,46.8 671.7,29.4 665.7,36" fill="#f46dc2"/><polygon points="661.4,94 657.7,100.6 658,102.5 665.7,108.2 676.2,103.4 675.1,94.8 670.6,91.5" fill="#f067bd"/><polygon points="605.4,45.7 594.5,39.1 595.5,35.9 605.2,27.1 612.8,37.1" fill="#ee64ba"/><polygon points="611.4,87 607.1,77.7 599.9,77.3 596.2,84.9 601,91.4 610.1,89.8" fill="#f56fc3"/><polygon points="632.8,69.7 637.5,62.8 635,57 625.1,57.2 623.5,65.1 628.7,70" fill="#f56fc3"/><polygon points="646.2,84.8 647.2,77 657.4,74.8 660.2,79 656.3,86.8 649.3,87.9" fill="#f46dc2"/><polygon points="649.3,87.9 648.2,95.4 657.7,100.6 661.4,94 656.3,86.8" fill="#f56fc3"/><polygon points="663.4,56.7 664.8,64.4 674.8,67.8 682.7,52.7 670.3,49.9" fill="#f46dc2"/><polygon points="650.4,57.7 649.6,62.8 658.2,69 664.8,64.4 663.4,56.7 657.4,54.1" fill="#f36bc0"/><polygon points="634.5,42.4 622.6,46.4 616.9,37.4 624.5,29.7 633.2,35.6" fill="#f56fc3"/><polygon points="634.1,114.7 628.4,119.8 628.4,1173.2 647.6,1153 647.6,122" fill="#f46dc2"/><polygon points="657.4,74.8 658.2,69 664.8,64.4 674.8,67.8 676.9,73.5 669.1,80.9 660.2,79" fill="#f36bc0"/><polygon points="594.5,39.1 589.5,41.9 577.5,35.5 581.9,16.2 595.5,35.9" fill="#f773c6"/><polygon points="695.3,46.8 1695.8,46.8 671.7,-977.3 671.7,29.4" fill="#f067bd"/><polygon points="625,95.6 626,103.3 634.6,108 640.6,103.6 641.2,99.4 636.2,92.9 625.9,94.1" fill="#f773c6"/><polygon points="640.6,103.6 634.6,108 634.1,114.7 647.6,122 650.5,117.7 649.9,109.6" fill="#f773c6"/><polygon points="645.5,52.3 638,52.2 635,57 637.5,62.8 645,65.4 649.6,62.8 650.4,57.7" fill="#f773c6"/><polygon points="641.2,99.4 640.6,103.6 649.9,109.6 658,102.5 657.7,100.6 648.2,95.4" fill="#f773c6"/><polygon points="585.6,93.4 576.3,97.2 567.7,91 577.3,80.4 583.1,80.5 587.6,86" fill="#f168bf"/><polygon points="591.4,1137.7 591.4,118.9 576.1,117.3 576.1,1122.1" fill="#f067bd"/><polygon points="609.9,64.5 598.5,64.3 596.4,56.6 605.7,49.4 612.5,54.6 610.2,64.3" fill="#f46dc2"/><polygon points="588.5,52.7 580,57.3 567.1,42.3 577.5,35.5 589.5,41.9" fill="#f773c6"/><polygon points="649.5,31.8 646,24 646,-1003.7 671.7,-977.3 671.7,29.4 665.7,36" fill="#f46dc2"/><polygon points="624.6,88.6 629.5,81.8 625.7,76.8 619.6,77.3 617.9,84.6" fill="#f067bd"/><polygon points="587.6,86 583.1,80.5 587.9,70.7 595.5,69.9 599.9,77.3 596.2,84.9" fill="#f46dc2"/><polygon points="610.2,64.3 612.5,54.6 621.1,52.5 625.1,57.2 623.5,65.1 619.4,66.9" fill="#f56fc3"/><polygon points="591.4,118.9 593.6,115.5 589.4,107.4 577.2,107.1 573.2,112.9 576.1,117.3" fill="#f36bc0"/><polygon points="649.8,43.7 645.5,52.3 650.4,57.7 657.4,54.1 656.5,45.8" fill="#ee64ba"/><polygon points="625,95.6 626,103.3 618.3,109.1 611,103.1 613.4,96" fill="#f067bd"/><polygon points="664.3,116.5 665.7,108.2 676.2,103.4 684.9,110 671.8,127.5" fill="#f56fc3"/><polygon points="647.2,77 644.3,74.2 645,65.4 649.6,62.8 658.2,69 657.4,74.8" fill="#f46dc2"/><polygon points="612.8,37.1 605.2,27.1 605.2,-1000.8 624.5,-1021 624.5,29.7 616.9,37.4" fill="#f067bd"/><polygon points="646.2,84.8 638.2,86.4 634.5,81.8 637.3,75.4 644.3,74.2 647.2,77" fill="#f168bf"/><polygon points="676.2,103.4 675.1,94.8 695.4,81.4 1719.4,81.4 1690,110 684.9,110" fill="#f773c6"/><polygon points="664.3,116.5 650.5,117.7 647.6,122 647.6,1153 671.8,1128.2 671.8,127.5" fill="#f46dc2"/><polygon points="626,103.3 634.6,108 634.1,114.7 628.4,119.8 618.2,114.6 618.3,109.1" fill="#f067bd"/><polygon points="609.9,64.5 609.7,75 618,75.6 619.4,66.9 610.2,64.3" fill="#f46dc2"/><polygon points="670.6,91.5 675.1,94.8 695.4,81.4 676.9,73.5 669.1,80.9" fill="#f067bd"/><polygon points="649.8,43.7 645.5,52.3 638,52.2 634.8,42.7 647.6,39.7" fill="#f46dc2"/><polygon points="646.2,84.8 638.2,86.4 636.2,92.9 641.2,99.4 648.2,95.4 649.3,87.9" fill="#f56fc3"/><polygon points="585.6,93.4 576.3,97.2 577.2,107.1 589.4,107.4 592.3,100.2" fill="#f56fc3"/><polygon points="619.4,66.9 623.5,65.1 628.7,70 625.7,76.8 619.6,77.3 618,75.6" fill="#f56fc3"/><polygon points="578.9,61.4 580,57.3 567.1,42.3 -437.3,42.3 -463.7,67.9 569.2,67.9" fill="#f46dc2"/><polygon points="633.2,35.6 624.5,29.7 624.5,-1021 627,-1023.7 646,-1003.7 646,24" fill="#f56fc3"/><polygon points="569.2,67.9 -463.7,67.9 -471.6,75.5 -455.5,91 567.7,91 577.3,80.4" fill="#f067bd"/>
<path d="M567.1 42.3L577.5 35.5M577.5 35.5L581.9 16.2M580 57.3L588.5 52.7M567.1 42.3L580 57.3M577.5 35.5L589.5 41.9M589.5 41.9L588.5 52.7M581.9 16.2L595.5 35.9M605.2 27.1L595.5 35.9M589.5 41.9L594.5 39.1M595.5 35.9L594.5 39.1M577.3 80.4L583.1 80.5M577.3 80.4L569.2 67.9M583.1 80.5L587.9 70.7M587.9 70.7L578.9 61.4M569.2 67.9L578.9 61.4M567.7 91L577.3 80.4M580 57.3L578.9 61.4M616.9 37.4L622.6 46.4M616.9 37.4L612.8 37.1M612.8 37.1L605.4 45.7M622.6 46.4L621.1 52.5M621.1 52.5L612.5 54.6M612.5 54.6L605.7 49.4M605.7 49.4L605.4 45.7M624.5 29.7L616.9 37.4M605.2 27.1L612.8 37.1M594.5 39.1L605.4 45.7M588.5 52.7L596.4 56.6M596.4 56.6L605.7 49.4M567.7 91L576.3 97.2M576.3 97.2L577.2 107.1M573.2 112.9L577.2 107.1M609.9 121.2L618.2 114.6M628.4 119.8L618.2 114.6M624.5 29.7L633.2 35.6M646 24L633.2 35.6M622.6 46.4L634.5 42.4M633.2 35.6L634.5 42.4M596.4 56.6L598.5 64.3M587.9 70.7L595.5 69.9M598.5 64.3L595.5 69.9M576.1 117.3L591.4 118.9M593.6 115.5L591.4 118.9M593.6 115.5L589.4 107.4M589.4 107.4L577.2 107.1M573.2 112.9L576.1 117.3M609.9 121.2L602 114.2M602 114.2L593.6 115.5M671.7 29.4L695.3 46.8M628.4 119.8L634.1 114.7M647.6 122L634.1 114.7M601 91.4L598.5 98.6M601 91.4L596.2 84.9M596.2 84.9L587.6 86M592.3 100.2L585.6 93.4M592.3 100.2L598.5 98.6M587.6 86L585.6 93.4M599.9 77.3L595.5 69.9M583.1 80.5L587.6 86M599.9 77.3L596.2 84.9M589.4 107.4L592.3 100.2M576.3 97.2L585.6 93.4M602 114.2L605.1 104.8M605.1 104.8L598.5 98.6M618.2 114.6L618.3 109.1M634.6 108L626 103.3M634.1 114.7L634.6 108M618.3 109.1L626 103.3M605.1 104.8L611 103.1M618.3 109.1L611 103.1M647.6 122L650.5 117.7M650.5 117.7L649.9 109.6M634.6 108L640.6 103.6M649.9 109.6L640.6 103.6M684.9 110L676.2 103.4M684.9 110L671.8 127.5M676.2 103.4L665.7 108.2M665.7 108.2L664.3 116.5M671.8 127.5L664.3 116.5M695.4 81.4L675.1 94.8M675.1 94.8L676.2 103.4M649.9 109.6L658 102.5M658 102.5L665.7 108.2M650.5 117.7L664.3 116.5M695.3 46.8L682.7 52.7M695.4 81.4L676.9 73.5M676.9 73.5L674.8 67.8M674.8 67.8L682.7 52.7M675.1 94.8L670.6 91.5M676.9 73.5L669.1 80.9M669.1 80.9L670.6 91.5M657.7 100.6L658 102.5M657.7 100.6L661.4 94M670.6 91.5L661.4 94M640.6 103.6L641.2 99.4M657.7 100.6L648.2 95.4M648.2 95.4L641.2 99.4M625.1 57.2L621.1 52.5M625.1 57.2L635 57M634.5 42.4L634.8 42.7M634.8 42.7L638 52.2M635 57L638 52.2M629.5 81.8L625.7 76.8M629.5 81.8L634.5 81.8M634.5 81.8L637.3 75.4M625.7 76.8L628.7 70M637.3 75.4L632.8 69.7M628.7 70L632.8 69.7M644.3 74.2L645 65.4M637.5 62.8L645 65.4M637.5 62.8L632.8 69.7M644.3 74.2L637.3 75.4M625.1 57.2L623.5 65.1M623.5 65.1L628.7 70M635 57L637.5 62.8M674.8 67.8L664.8 64.4M664.8 64.4L663.4 56.7M682.7 52.7L670.3 49.9M670.3 49.9L663.4 56.7M617.9 84.6L611.4 87M617.9 84.6L624.6 88.6M624.6 88.6L625.9 94.1M613.4 96L625 95.6M613.4 96L610.1 89.8M625.9 94.1L625 95.6M610.1 89.8L611.4 87M619.6 77.3L617.9 84.6M619.6 77.3L625.7 76.8M629.5 81.8L624.6 88.6M638.2 86.4L634.5 81.8M638.2 86.4L636.2 92.9M636.2 92.9L625.9 94.1M611 103.1L613.4 96M626 103.3L625 95.6M601 91.4L610.1 89.8M636.2 92.9L641.2 99.4M599.9 77.3L607.1 77.7M607.1 77.7L611.4 87M618 75.6L609.7 75M618 75.6L619.4 66.9M609.7 75L609.9 64.5M619.4 66.9L610.2 64.3M610.2 64.3L609.9 64.5M619.6 77.3L618 75.6M607.1 77.7L609.7 75M623.5 65.1L619.4 66.9M598.5 64.3L609.9 64.5M612.5 54.6L610.2 64.3M660.2 79L656.3 86.8M660.2 79L657.4 74.8M657.4 74.8L647.2 77M656.3 86.8L649.3 87.9M647.2 77L646.2 84.8M649.3 87.9L646.2 84.8M669.1 80.9L660.2 79M661.4 94L656.3 86.8M664.8 64.4L658.2 69M658.2 69L657.4 74.8M658.2 69L649.6 62.8M649.6 62.8L645 65.4M644.3 74.2L647.2 77M648.2 95.4L649.3 87.9M638.2 86.4L646.2 84.8M663.4 56.7L657.4 54.1M649.6 62.8L650.4 57.7M657.4 54.1L650.4 57.7M638 52.2L645.5 52.3M650.4 57.7L645.5 52.3M656.5 45.8L649.8 43.7M656.5 45.8L665 40.3M665.7 36L665 40.3M665.7 36L649.5 31.8M649.5 31.8L647.6 39.7M647.6 39.7L649.8 43.7M657.4 54.1L656.5 45.8M645.5 52.3L649.8 43.7M670.3 49.9L665 40.3M671.7 29.4L665.7 36M646 24L649.5 31.8M634.8 42.7L647.6 39.7" fill="none" stroke="#b45ac8" stroke-width="0.75" stroke-opacity="0.6"/>
<path d="M567.1 42.3L580 57.3M657.7 100.6L661.4 94M635 57L637.5 62.8M587.9 70.7L595.5 69.9" fill="none" stroke="#f6d0ee" stroke-width="0.8" stroke-opacity="0.7"/>
<rect x="577" y="36" width="100" height="79" fill="#fff" fill-opacity="0.07"/>
<path d="M644.7 38.2L647 49.4L651.5 61.3L657.4 73.2L663.4 83.6L667.8 95.6L673.8 106" fill="none" stroke="#f9e4f5" stroke-width="1" stroke-opacity="0.75" stroke-linejoin="round"/>
<path d="M578.5 95.6L591.9 103L603.8 113.4" fill="none" stroke="#f9e4f5" stroke-width="1" stroke-opacity="0.75" stroke-linejoin="round"/>
<path d="M578.5 73.2L585.9 65.8L594.9 61.3L605.3 52.4L615.7 44.9L624.6 39" fill="none" stroke="#f9e4f5" stroke-width="1" stroke-opacity="0.75" stroke-linejoin="round"/>
<path d="M645.5 95.6L660.4 88.1L672.3 82.2" fill="none" stroke="#f9e4f5" stroke-width="1" stroke-opacity="0.75" stroke-linejoin="round"/>
<g fill="#8a40b8" fill-opacity="0.7"><circle cx="580" cy="57.3" r="0.6"/><circle cx="589.5" cy="41.9" r="0.6"/><circle cx="588.5" cy="52.7" r="0.6"/><circle cx="596.4" cy="56.6" r="0.6"/><circle cx="594.5" cy="39.1" r="0.6"/><circle cx="602" cy="114.2" r="0.6"/><circle cx="625.1" cy="57.2" r="0.6"/><circle cx="577.3" cy="80.4" r="0.6"/><circle cx="583.1" cy="80.5" r="0.6"/><circle cx="587.9" cy="70.7" r="0.6"/><circle cx="578.9" cy="61.4" r="0.6"/><circle cx="616.9" cy="37.4" r="0.6"/><circle cx="612.8" cy="37.1" r="0.6"/><circle cx="622.6" cy="46.4" r="0.6"/><circle cx="605.7" cy="49.4" r="0.6"/><circle cx="605.4" cy="45.7" r="0.6"/><circle cx="577.2" cy="107.1" r="0.6"/><circle cx="618.2" cy="114.6" r="0.6"/><circle cx="634.5" cy="42.4" r="0.6"/><circle cx="605.1" cy="104.8" r="0.6"/><circle cx="623.5" cy="65.1" r="0.6"/><circle cx="599.9" cy="77.3" r="0.6"/><circle cx="598.5" cy="64.3" r="0.6"/><circle cx="634.1" cy="114.7" r="0.6"/><circle cx="596.2" cy="84.9" r="0.6"/><circle cx="592.3" cy="100.2" r="0.6"/><circle cx="598.5" cy="98.6" r="0.6"/><circle cx="587.6" cy="86" r="0.6"/><circle cx="585.6" cy="93.4" r="0.6"/><circle cx="626" cy="103.3" r="0.6"/><circle cx="675.1" cy="94.8" r="0.6"/><circle cx="676.9" cy="73.5" r="0.6"/><circle cx="619.6" cy="77.3" r="0.6"/><circle cx="649.9" cy="109.6" r="0.6"/><circle cx="640.6" cy="103.6" r="0.6"/><circle cx="657.7" cy="100.6" r="0.6"/><circle cx="658" cy="102.5" r="0.6"/><circle cx="676.2" cy="103.4" r="0.6"/><circle cx="674.8" cy="67.8" r="0.6"/><circle cx="664.8" cy="64.4" r="0.6"/><circle cx="669.1" cy="80.9" r="0.6"/><circle cx="670.6" cy="91.5" r="0.6"/><circle cx="661.4" cy="94" r="0.6"/><circle cx="638.2" cy="86.4" r="0.6"/><circle cx="636.2" cy="92.9" r="0.6"/><circle cx="648.2" cy="95.4" r="0.6"/><circle cx="635" cy="57" r="0.6"/><circle cx="638" cy="52.2" r="0.6"/><circle cx="658.2" cy="69" r="0.6"/><circle cx="649.6" cy="62.8" r="0.6"/><circle cx="644.3" cy="74.2" r="0.6"/><circle cx="645" cy="65.4" r="0.6"/><circle cx="634.5" cy="81.8" r="0.6"/><circle cx="625.7" cy="76.8" r="0.6"/><circle cx="637.3" cy="75.4" r="0.6"/><circle cx="628.7" cy="70" r="0.6"/><circle cx="632.8" cy="69.7" r="0.6"/><circle cx="670.3" cy="49.9" r="0.6"/><circle cx="617.9" cy="84.6" r="0.6"/><circle cx="624.6" cy="88.6" r="0.6"/><circle cx="613.4" cy="96" r="0.6"/><circle cx="625.9" cy="94.1" r="0.6"/><circle cx="625" cy="95.6" r="0.6"/><circle cx="610.1" cy="89.8" r="0.6"/><circle cx="618" cy="75.6" r="0.6"/><circle cx="609.7" cy="75" r="0.6"/><circle cx="619.4" cy="66.9" r="0.6"/><circle cx="610.2" cy="64.3" r="0.6"/><circle cx="609.9" cy="64.5" r="0.6"/><circle cx="660.2" cy="79" r="0.6"/><circle cx="657.4" cy="74.8" r="0.6"/><circle cx="656.3" cy="86.8" r="0.6"/><circle cx="647.2" cy="77" r="0.6"/><circle cx="646.2" cy="84.8" r="0.6"/><circle cx="650.4" cy="57.7" r="0.6"/><circle cx="656.5" cy="45.8" r="0.6"/><circle cx="665" cy="40.3" r="0.6"/><circle cx="647.6" cy="39.7" r="0.6"/></g>
</g>
<rect x="577" y="36" width="100" height="79" fill="none" stroke="#3a2a35" stroke-width="1.2"/>
<text x="671.8" y="111.9" font-size="5" text-anchor="end" fill="#3a1838" textLength="12.8" lengthAdjust="spacingAndGlyphs">100μm</text>
<line x1="653.6" x2="674.8" y1="113.2" y2="113.2" stroke="#4a1a44" stroke-width="1.2"/>
<text x="1" y="152" font-size="18" font-weight="bold">B</text>
<line x1="82" x2="82" y1="189.5" y2="343.2" stroke="#000" stroke-width="1.5"/>
<line x1="75" x2="82" y1="342.5" y2="342.5" stroke="#000" stroke-width="1.5"/>
<line x1="75" x2="82" y1="291.7" y2="291.7" stroke="#000" stroke-width="1.5"/>
<line x1="75" x2="82" y1="241" y2="241" stroke="#000" stroke-width="1.5"/>
<line x1="75" x2="82" y1="190.2" y2="190.2" stroke="#000" stroke-width="1.5"/>
<text x="73" y="347" font-size="11.4" font-weight="bold" text-anchor="end">1500</text>
<text x="73" y="296.2" font-size="11.4" font-weight="bold" text-anchor="end">2000</text>
<text x="73" y="245.5" font-size="11.4" font-weight="bold" text-anchor="end">2500</text>
<text x="73" y="194.7" font-size="11.4" font-weight="bold" text-anchor="end">3000</text>
<line x1="75" x2="184.5" y1="342.5" y2="342.5" stroke="#000" stroke-width="1.5"/>
<rect x="92.9" y="236.8" width="19.2" height="105.7" fill="#55a0fe" stroke="#000" stroke-width="1.5"/>
<rect x="123.2" y="231.2" width="19" height="111.3" fill="#fec07f" stroke="#000" stroke-width="1.5"/>
<rect x="154.2" y="248.7" width="18.5" height="93.8" fill="#ff9e9e" stroke="#000" stroke-width="1.5"/>
<path d="M102.5 225.6V246.6M97.5 225.6H107.5M97.5 246.6H107.5" stroke="#000" stroke-width="1.2" fill="none"/>
<path d="M132.7 221.5V238.7M127.7 221.5H137.7M127.7 238.7H137.7" stroke="#000" stroke-width="1.2" fill="none"/>
<path d="M163.5 232V263.9M158.5 232H168.5M158.5 263.9H168.5" stroke="#000" stroke-width="1.2" fill="none"/>
<g fill="#000"><circle cx="102.2" cy="197.9" r="2.4"/><circle cx="102.2" cy="221.5" r="2.4"/><circle cx="102.2" cy="227.7" r="2.4"/><circle cx="97.8" cy="248.7" r="2.4"/><circle cx="106.9" cy="249.6" r="2.4"/><circle cx="102.2" cy="271.1" r="2.4"/><circle cx="128.1" cy="207.5" r="2.4"/><circle cx="137.5" cy="203.7" r="2.4"/><circle cx="132.8" cy="227.3" r="2.4"/><circle cx="132.8" cy="237.3" r="2.4"/><circle cx="128.1" cy="253.4" r="2.4"/><circle cx="137.5" cy="251" r="2.4"/><circle cx="163.5" cy="200" r="2.4"/><circle cx="163.5" cy="225.9" r="2.4"/><circle cx="158.7" cy="237.7" r="2.4"/><circle cx="167.9" cy="235" r="2.4"/><circle cx="163.3" cy="285.2" r="2.4"/><circle cx="163.3" cy="304.3" r="2.4"/></g>
<text transform="translate(41,266) rotate(-90)" font-size="12.2" font-weight="bold" text-anchor="middle">Number of myofibers</text>
<text x="209" y="152" font-size="18" font-weight="bold">C</text>
<line x1="287.2" x2="287.2" y1="188.7" y2="343.3" stroke="#000" stroke-width="1.5"/>
<line x1="280.2" x2="287.2" y1="342.6" y2="342.6" stroke="#000" stroke-width="1.5"/>
<line x1="280.2" x2="287.2" y1="291.5" y2="291.5" stroke="#000" stroke-width="1.5"/>
<line x1="280.2" x2="287.2" y1="240.5" y2="240.5" stroke="#000" stroke-width="1.5"/>
<line x1="280.2" x2="287.2" y1="189.4" y2="189.4" stroke="#000" stroke-width="1.5"/>
<text x="278.2" y="347.1" font-size="11.4" font-weight="bold" text-anchor="end">0</text>
<text x="278.2" y="296" font-size="11.4" font-weight="bold" text-anchor="end">1000</text>
<text x="278.2" y="245" font-size="11.4" font-weight="bold" text-anchor="end">2000</text>
<text x="278.2" y="193.9" font-size="11.4" font-weight="bold" text-anchor="end">3000</text>
<line x1="280.2" x2="389" y1="342.6" y2="342.6" stroke="#000" stroke-width="1.5"/>
<rect x="298" y="228.9" width="19" height="113.6" fill="#55a0fe" stroke="#000" stroke-width="1.5"/>
<rect x="328.7" y="272.6" width="19" height="69.9" fill="#fec07f" stroke="#000" stroke-width="1.5"/>
<rect x="359.7" y="256.6" width="18.9" height="85.9" fill="#ff8080" stroke="#000" stroke-width="1.5"/>
<path d="M307.5 225V231M302.5 225H312.5M302.5 231H312.5" stroke="#000" stroke-width="1.2" fill="none"/>
<path d="M338.2 268.4V274.2M332.7 268.4H343.7M332.7 274.2H343.7" stroke="#000" stroke-width="1.2" fill="none"/>
<path d="M369 250.2V260.4M364 250.2H374M364 260.4H374" stroke="#000" stroke-width="1.2" fill="none"/>
<g fill="#000"><circle cx="307.3" cy="216.6" r="2.4"/><circle cx="302.9" cy="225.1" r="2.4"/><circle cx="311.9" cy="226" r="2.4"/><circle cx="302.9" cy="230.3" r="2.4"/><circle cx="311.9" cy="231.5" r="2.4"/><circle cx="307.3" cy="238.6" r="2.4"/><circle cx="333.3" cy="261.5" r="2.4"/><circle cx="342.7" cy="265" r="2.4"/><circle cx="342.7" cy="270.5" r="2.4"/><circle cx="333.3" cy="272.9" r="2.4"/><circle cx="342.7" cy="276.3" r="2.4"/><circle cx="338.2" cy="284" r="2.4"/><circle cx="368.9" cy="232.8" r="2.4"/><circle cx="369" cy="248.7" r="2.4"/><circle cx="373.6" cy="258.6" r="2.4"/><circle cx="364.1" cy="261.7" r="2.4"/><circle cx="373.6" cy="264.2" r="2.4"/><circle cx="364.1" cy="267.3" r="2.4"/></g>
<path d="M307.4 194.4V187.3H369V194.7" fill="none" stroke="#000" stroke-width="1.4"/>
<path d="M332.1 182.1L332.10 179.30M332.1 182.1L334.81 181.27M332.1 182.1L333.78 184.46M332.1 182.1L330.42 184.46M332.1 182.1L329.39 181.27" stroke="#000" stroke-width="1.25" fill="none"/>
<path d="M339.7 182.1L339.70 179.30M339.7 182.1L342.41 181.27M339.7 182.1L341.38 184.46M339.7 182.1L338.02 184.46M339.7 182.1L336.99 181.27" stroke="#000" stroke-width="1.25" fill="none"/>
<path d="M347.3 182.1L347.30 179.30M347.3 182.1L350.01 181.27M347.3 182.1L348.98 184.46M347.3 182.1L345.62 184.46M347.3 182.1L344.59 181.27" stroke="#000" stroke-width="1.25" fill="none"/>
<path d="M307.4 209.8V205.1H336.7V254.5" fill="none" stroke="#000" stroke-width="1.4"/>
<path d="M310.8 200L310.80 197.20M310.8 200L313.51 199.17M310.8 200L312.48 202.36M310.8 200L309.12 202.36M310.8 200L308.09 199.17" stroke="#000" stroke-width="1.25" fill="none"/>
<path d="M318.4 200L318.40 197.20M318.4 200L321.11 199.17M318.4 200L320.08 202.36M318.4 200L316.72 202.36M318.4 200L315.69 199.17" stroke="#000" stroke-width="1.25" fill="none"/>
<path d="M326 200L326.00 197.20M326 200L328.71 199.17M326 200L327.68 202.36M326 200L324.32 202.36M326 200L323.29 199.17" stroke="#000" stroke-width="1.25" fill="none"/>
<path d="M333.6 200L333.60 197.20M333.6 200L336.31 199.17M333.6 200L335.28 202.36M333.6 200L331.92 202.36M333.6 200L330.89 199.17" stroke="#000" stroke-width="1.25" fill="none"/>
<path d="M342.7 254.5V205.1H369V225" fill="none" stroke="#000" stroke-width="1.4"/>
<path d="M356.2 200L356.20 197.20M356.2 200L358.91 199.17M356.2 200L357.88 202.36M356.2 200L354.52 202.36M356.2 200L353.49 199.17" stroke="#000" stroke-width="1.25" fill="none"/>
<text transform="translate(245,266.3) rotate(-90)" font-size="13" font-weight="bold" text-anchor="middle">Average CSA (<tspan font-weight="normal">μ</tspan>m<tspan font-size="9.4" dy="-6.5">2</tspan><tspan dy="6.5">)</tspan></text>
<text x="401" y="152" font-size="18" font-weight="bold">D</text>
<line x1="465" x2="465" y1="151.7" y2="286.7" stroke="#000" stroke-width="1.5"/>
<line x1="459" x2="465" y1="286" y2="286" stroke="#000" stroke-width="1.5"/>
<line x1="459" x2="465" y1="252.6" y2="252.6" stroke="#000" stroke-width="1.5"/>
<line x1="459" x2="465" y1="219.2" y2="219.2" stroke="#000" stroke-width="1.5"/>
<line x1="459" x2="465" y1="185.8" y2="185.8" stroke="#000" stroke-width="1.5"/>
<line x1="459" x2="465" y1="152.4" y2="152.4" stroke="#000" stroke-width="1.5"/>
<text x="457" y="290" font-size="10" font-weight="bold" text-anchor="end">0</text>
<text x="457" y="256.6" font-size="10" font-weight="bold" text-anchor="end">10</text>
<text x="457" y="223.2" font-size="10" font-weight="bold" text-anchor="end">20</text>
<text x="457" y="189.8" font-size="10" font-weight="bold" text-anchor="end">30</text>
<text x="457" y="156.4" font-size="10" font-weight="bold" text-anchor="end">40</text>
<line x1="459" x2="666" y1="286" y2="286" stroke="#000" stroke-width="1.5"/>
<line x1="476.5" x2="476.5" y1="286" y2="291.5" stroke="#000" stroke-width="1.5"/>
<line x1="494.2" x2="494.2" y1="286" y2="291.5" stroke="#000" stroke-width="1.5"/>
<line x1="511.9" x2="511.9" y1="286" y2="291.5" stroke="#000" stroke-width="1.5"/>
<line x1="529.6" x2="529.6" y1="286" y2="291.5" stroke="#000" stroke-width="1.5"/>
<line x1="547.3" x2="547.3" y1="286" y2="291.5" stroke="#000" stroke-width="1.5"/>
<line x1="565" x2="565" y1="286" y2="291.5" stroke="#000" stroke-width="1.5"/>
<line x1="582.7" x2="582.7" y1="286" y2="291.5" stroke="#000" stroke-width="1.5"/>
<line x1="600.4" x2="600.4" y1="286" y2="291.5" stroke="#000" stroke-width="1.5"/>
<line x1="618.1" x2="618.1" y1="286" y2="291.5" stroke="#000" stroke-width="1.5"/>
<line x1="635.8" x2="635.8" y1="286" y2="291.5" stroke="#000" stroke-width="1.5"/>
<line x1="653.5" x2="653.5" y1="286" y2="291.5" stroke="#000" stroke-width="1.5"/>
<text transform="translate(479.7,300.2) rotate(-45)" font-size="10" font-weight="bold" text-anchor="end">&lt;500</text>
<text transform="translate(497.4,300.2) rotate(-45)" font-size="10" font-weight="bold" text-anchor="end">500-1000</text>
<text transform="translate(515.1,300.2) rotate(-45)" font-size="10" font-weight="bold" text-anchor="end">1000-1500</text>
<text transform="translate(532.8,300.2) rotate(-45)" font-size="10" font-weight="bold" text-anchor="end">1500-2000</text>
<text transform="translate(550.5,300.2) rotate(-45)" font-size="10" font-weight="bold" text-anchor="end">2000-2500</text>
<text transform="translate(568.2,300.2) rotate(-45)" font-size="10" font-weight="bold" text-anchor="end">2500-3000</text>
<text transform="translate(585.9,300.2) rotate(-45)" font-size="10" font-weight="bold" text-anchor="end">3000-3500</text>
<text transform="translate(603.6,300.2) rotate(-45)" font-size="10" font-weight="bold" text-anchor="end">3500-4000</text>
<text transform="translate(621.3,300.2) rotate(-45)" font-size="10" font-weight="bold" text-anchor="end">4000-4500</text>
<text transform="translate(639,300.2) rotate(-45)" font-size="10" font-weight="bold" text-anchor="end">4500-5000</text>
<text transform="translate(656.7,300.2) rotate(-45)" font-size="10" font-weight="bold" text-anchor="end">&gt;5000</text>
<polyline points="476.5,264.6 494.2,222.5 511.9,215.9 529.6,218.5 547.3,231.6 565,255.6 582.7,270 600.4,277.3 618.1,281.7 635.8,283.7 653.5,282.7" fill="none" stroke="#222" stroke-width="1"/>
<path d="M476.5 262V267.3M474.1 262H478.9M474.1 267.3H478.9" stroke="#ffa0a8" stroke-width="0.9" fill="none"/>
<path d="M494.2 218.5V226.5M491.8 218.5H496.6M491.8 226.5H496.6" stroke="#ffa0a8" stroke-width="0.9" fill="none"/>
<path d="M511.9 211.5V220.2M509.5 211.5H514.3M509.5 220.2H514.3" stroke="#ffa0a8" stroke-width="0.9" fill="none"/>
<path d="M529.6 213.2V223.9M527.2 213.2H532M527.2 223.9H532" stroke="#ffa0a8" stroke-width="0.9" fill="none"/>
<path d="M547.3 229.6V233.6M544.9 229.6H549.7M544.9 233.6H549.7" stroke="#ffa0a8" stroke-width="0.9" fill="none"/>
<path d="M565 251.6V259.6M562.6 251.6H567.4M562.6 259.6H567.4" stroke="#ffa0a8" stroke-width="0.9" fill="none"/>
<path d="M582.7 265.3V274.6M580.3 265.3H585.1M580.3 274.6H585.1" stroke="#ffa0a8" stroke-width="0.9" fill="none"/>
<path d="M600.4 275.6V279M598 275.6H602.8M598 279H602.8" stroke="#ffa0a8" stroke-width="0.9" fill="none"/>
<path d="M618.1 280.7V282.7M615.7 280.7H620.5M615.7 282.7H620.5" stroke="#ffa0a8" stroke-width="0.9" fill="none"/>
<path d="M635.8 283V284.3M633.4 283H638.2M633.4 284.3H638.2" stroke="#ffa0a8" stroke-width="0.9" fill="none"/>
<path d="M653.5 281.7V283.7M651.1 281.7H655.9M651.1 283.7H655.9" stroke="#ffa0a8" stroke-width="0.9" fill="none"/>
<path d="M476.5 267.8L479.5 262.6L473.5 262.6Z" fill="#ffa0a8"/>
<path d="M494.2 225.7L497.2 220.5L491.2 220.5Z" fill="#ffa0a8"/>
<path d="M511.9 219.1L514.9 213.9L508.9 213.9Z" fill="#ffa0a8"/>
<path d="M529.6 221.7L532.6 216.5L526.6 216.5Z" fill="#ffa0a8"/>
<path d="M547.3 234.8L550.3 229.6L544.3 229.6Z" fill="#ffa0a8"/>
<path d="M565 258.8L568 253.6L562 253.6Z" fill="#ffa0a8"/>
<path d="M582.7 273.2L585.7 268L579.7 268Z" fill="#ffa0a8"/>
<path d="M600.4 280.5L603.4 275.3L597.4 275.3Z" fill="#ffa0a8"/>
<path d="M618.1 284.9L621.1 279.7L615.1 279.7Z" fill="#ffa0a8"/>
<path d="M635.8 286.9L638.8 281.7L632.8 281.7Z" fill="#ffa0a8"/>
<path d="M653.5 285.9L656.5 280.7L650.5 280.7Z" fill="#ffa0a8"/>
<polyline points="476.5,271.3 494.2,186.8 511.9,178.5 529.6,215.9 547.3,258.9 565,281 582.7,283.7 600.4,284.7 618.1,285.3 635.8,285.3 653.5,285.3" fill="none" stroke="#222" stroke-width="1"/>
<path d="M476.5 268.6V274M474.1 268.6H478.9M474.1 274H478.9" stroke="#ff9a3c" stroke-width="0.9" fill="none"/>
<path d="M494.2 180.8V192.8M491.8 180.8H496.6M491.8 192.8H496.6" stroke="#ff9a3c" stroke-width="0.9" fill="none"/>
<path d="M511.9 175.4V181.5M509.5 175.4H514.3M509.5 181.5H514.3" stroke="#ff9a3c" stroke-width="0.9" fill="none"/>
<path d="M529.6 211.9V219.9M527.2 211.9H532M527.2 219.9H532" stroke="#ff9a3c" stroke-width="0.9" fill="none"/>
<path d="M547.3 254.6V263.3M544.9 254.6H549.7M544.9 263.3H549.7" stroke="#ff9a3c" stroke-width="0.9" fill="none"/>
<path d="M565 280V282M562.6 280H567.4M562.6 282H567.4" stroke="#ff9a3c" stroke-width="0.9" fill="none"/>
<path d="M582.7 283.3V284M580.3 283.3H585.1M580.3 284H585.1" stroke="#ff9a3c" stroke-width="0.9" fill="none"/>
<path d="M600.4 284.3V285M598 284.3H602.8M598 285H602.8" stroke="#ff9a3c" stroke-width="0.9" fill="none"/>
<path d="M618.1 285V285.7M615.7 285H620.5M615.7 285.7H620.5" stroke="#ff9a3c" stroke-width="0.9" fill="none"/>
<path d="M635.8 285V285.7M633.4 285H638.2M633.4 285.7H638.2" stroke="#ff9a3c" stroke-width="0.9" fill="none"/>
<path d="M653.5 285V285.7M651.1 285H655.9M651.1 285.7H655.9" stroke="#ff9a3c" stroke-width="0.9" fill="none"/>
<path d="M476.5 268.1L479.5 273.3L473.5 273.3Z" fill="#ff9a3c"/>
<path d="M494.2 183.6L497.2 188.8L491.2 188.8Z" fill="#ff9a3c"/>
<path d="M511.9 175.3L514.9 180.5L508.9 180.5Z" fill="#ff9a3c"/>
<path d="M529.6 212.7L532.6 217.9L526.6 217.9Z" fill="#ff9a3c"/>
<path d="M547.3 255.7L550.3 260.9L544.3 260.9Z" fill="#ff9a3c"/>
<path d="M565 277.8L568 283L562 283Z" fill="#ff9a3c"/>
<path d="M582.7 280.5L585.7 285.7L579.7 285.7Z" fill="#ff9a3c"/>
<path d="M600.4 281.5L603.4 286.7L597.4 286.7Z" fill="#ff9a3c"/>
<path d="M618.1 282.1L621.1 287.3L615.1 287.3Z" fill="#ff9a3c"/>
<path d="M635.8 282.1L638.8 287.3L632.8 287.3Z" fill="#ff9a3c"/>
<path d="M653.5 282.1L656.5 287.3L650.5 287.3Z" fill="#ff9a3c"/>
<polyline points="476.5,278.7 494.2,237.6 511.9,217.5 529.6,239.2 547.3,247.9 565,247.9 582.7,252.3 600.4,261.3 618.1,273.3 635.8,280.7 653.5,274.3" fill="none" stroke="#222" stroke-width="1"/>
<path d="M476.5 277.6V279.7M474.1 277.6H478.9M474.1 279.7H478.9" stroke="#4b9bff" stroke-width="0.9" fill="none"/>
<path d="M494.2 232.6V242.6M491.8 232.6H496.6M491.8 242.6H496.6" stroke="#4b9bff" stroke-width="0.9" fill="none"/>
<path d="M511.9 214.2V220.9M509.5 214.2H514.3M509.5 220.9H514.3" stroke="#4b9bff" stroke-width="0.9" fill="none"/>
<path d="M529.6 237.6V240.9M527.2 237.6H532M527.2 240.9H532" stroke="#4b9bff" stroke-width="0.9" fill="none"/>
<path d="M547.3 246.6V249.3M544.9 246.6H549.7M544.9 249.3H549.7" stroke="#4b9bff" stroke-width="0.9" fill="none"/>
<path d="M565 246.6V249.3M562.6 246.6H567.4M562.6 249.3H567.4" stroke="#4b9bff" stroke-width="0.9" fill="none"/>
<path d="M582.7 251.3V253.3M580.3 251.3H585.1M580.3 253.3H585.1" stroke="#4b9bff" stroke-width="0.9" fill="none"/>
<path d="M600.4 259.9V262.6M598 259.9H602.8M598 262.6H602.8" stroke="#4b9bff" stroke-width="0.9" fill="none"/>
<path d="M618.1 272V274.6M615.7 272H620.5M615.7 274.6H620.5" stroke="#4b9bff" stroke-width="0.9" fill="none"/>
<path d="M635.8 280V281.3M633.4 280H638.2M633.4 281.3H638.2" stroke="#4b9bff" stroke-width="0.9" fill="none"/>
<path d="M653.5 273.3V275.3M651.1 273.3H655.9M651.1 275.3H655.9" stroke="#4b9bff" stroke-width="0.9" fill="none"/>
<circle cx="476.5" cy="278.7" r="2.8" fill="#4b9bff"/>
<circle cx="494.2" cy="237.6" r="2.8" fill="#4b9bff"/>
<circle cx="511.9" cy="217.5" r="2.8" fill="#4b9bff"/>
<circle cx="529.6" cy="239.2" r="2.8" fill="#4b9bff"/>
<circle cx="547.3" cy="247.9" r="2.8" fill="#4b9bff"/>
<circle cx="565" cy="247.9" r="2.8" fill="#4b9bff"/>
<circle cx="582.7" cy="252.3" r="2.8" fill="#4b9bff"/>
<circle cx="600.4" cy="261.3" r="2.8" fill="#4b9bff"/>
<circle cx="618.1" cy="273.3" r="2.8" fill="#4b9bff"/>
<circle cx="635.8" cy="280.7" r="2.8" fill="#4b9bff"/>
<circle cx="653.5" cy="274.3" r="2.8" fill="#4b9bff"/>
<text x="476.5" y="254.3" font-size="8.5" text-anchor="middle" fill="#222">&amp;</text>
<text x="494.2" y="173.5" font-size="8.5" text-anchor="middle" fill="#222">#</text>
<text x="511.9" y="167.5" font-size="8.5" text-anchor="middle" fill="#222">#</text>
<text x="529.6" y="201" font-size="8.5" text-anchor="middle" fill="#222">#&amp;</text>
<text x="547.3" y="220.5" font-size="8.5" text-anchor="middle" fill="#222">&amp;</text>
<text x="565" y="233.5" font-size="8.5" text-anchor="middle" fill="#222">#</text>
<text x="582.7" y="239.5" font-size="8.5" text-anchor="middle" fill="#222">#&amp;</text>
<text x="600.4" y="250.5" font-size="8.5" text-anchor="middle" fill="#222">#&amp;</text>
<text x="618.1" y="263.5" font-size="8.5" text-anchor="middle" fill="#222">#&amp;</text>
<text x="635.8" y="270" font-size="8.5" text-anchor="middle" fill="#222">#</text>
<text x="653.5" y="263.5" font-size="8.5" text-anchor="middle" fill="#222">#&amp;</text>
<line x1="624.8" x2="639.1" y1="163.6" y2="163.6" stroke="#222" stroke-width="1"/>
<circle cx="632" cy="163.6" r="2.8" fill="#4b9bff"/>
<text x="647.8" y="167.4" font-size="10.6" fill="#222">Control</text>
<line x1="624.8" x2="639.1" y1="178.2" y2="178.2" stroke="#222" stroke-width="1"/>
<path d="M632 175L635 180.2L629 180.2Z" fill="#ff9a3c"/>
<text x="647.8" y="182" font-size="10.6" fill="#222">Ob/Ob</text>
<line x1="624.8" x2="639.1" y1="192.8" y2="192.8" stroke="#222" stroke-width="1"/>
<path d="M632 196L635 190.8L629 190.8Z" fill="#ffa0a8"/>
<text x="647.8" y="196.6" font-size="10.6" fill="#222">Aged</text>
<text transform="translate(440,219) rotate(-90)" font-size="11" font-weight="bold" text-anchor="middle">% Fiber</text>
<text x="445.6" y="352.8" font-size="11.3" font-weight="bold">Myfiber cross-section area distribution (<tspan font-weight="normal">μ</tspan>m<tspan font-size="8.2" dy="-5">2</tspan><tspan dy="5">)</tspan></text>
<text x="1" y="391" font-size="18" font-weight="bold">E</text>
<text x="127.9" y="395.8" font-size="14.4" font-weight="bold" text-anchor="middle">MYH7 (Type I)</text>
<line x1="77.8" x2="77.8" y1="452" y2="600.4" stroke="#000" stroke-width="1.5"/>
<line x1="71.8" x2="77.8" y1="599.7" y2="599.7" stroke="#000" stroke-width="1.5"/>
<line x1="71.8" x2="77.8" y1="550.7" y2="550.7" stroke="#000" stroke-width="1.5"/>
<line x1="71.8" x2="77.8" y1="501.7" y2="501.7" stroke="#000" stroke-width="1.5"/>
<line x1="71.8" x2="77.8" y1="452.7" y2="452.7" stroke="#000" stroke-width="1.5"/>
<line x1="74.8" x2="77.8" y1="575.2" y2="575.2" stroke="#000" stroke-width="1.5"/>
<line x1="74.8" x2="77.8" y1="526.2" y2="526.2" stroke="#000" stroke-width="1.5"/>
<line x1="74.8" x2="77.8" y1="477.2" y2="477.2" stroke="#000" stroke-width="1.5"/>
<text x="69.8" y="604.1" font-size="11" font-weight="bold" text-anchor="end">0</text>
<text x="69.8" y="555.1" font-size="11" font-weight="bold" text-anchor="end">500</text>
<text x="69.8" y="506.1" font-size="11" font-weight="bold" text-anchor="end">1000</text>
<text x="69.8" y="457.1" font-size="11" font-weight="bold" text-anchor="end">1500</text>
<line x1="71.7" x2="177" y1="599.7" y2="599.7" stroke="#000" stroke-width="1.5"/>
<rect x="89" y="487.8" width="18" height="111.9" fill="#55a0fe" stroke="#000" stroke-width="1.5"/>
<rect x="118.1" y="524.3" width="18.6" height="75.4" fill="#fec07f" stroke="#000" stroke-width="1.5"/>
<rect x="147.7" y="518.8" width="18.6" height="80.9" fill="#ff9e9e" stroke="#000" stroke-width="1.5"/>
<path d="M98 481.9V492.1M93 481.9H103M93 492.1H103" stroke="#000" stroke-width="1.2" fill="none"/>
<path d="M127.4 521.2V526.5M122.4 521.2H132.4M122.4 526.5H132.4" stroke="#000" stroke-width="1.2" fill="none"/>
<path d="M157 516.4V520.4M152 516.4H162M152 520.4H162" stroke="#000" stroke-width="1.2" fill="none"/>
<g fill="#000"><circle cx="93.5" cy="477.8" r="2.4"/><circle cx="102.3" cy="474.3" r="2.4"/><circle cx="93.5" cy="483.3" r="2.4"/><circle cx="102.3" cy="480.5" r="2.4"/><circle cx="98.2" cy="499.3" r="2.4"/><circle cx="98.2" cy="506.4" r="2.4"/><circle cx="119.4" cy="518.6" r="2.4"/><circle cx="134.9" cy="517.3" r="2.4"/><circle cx="134.9" cy="522.5" r="2.4"/><circle cx="127.3" cy="524.7" r="2.4"/><circle cx="119.9" cy="528.6" r="2.4"/><circle cx="134.9" cy="528.2" r="2.4"/><circle cx="154" cy="512.4" r="2.4"/><circle cx="149.2" cy="515.9" r="2.4"/><circle cx="149.2" cy="522.1" r="2.4"/><circle cx="154" cy="519" r="2.4"/><circle cx="159.3" cy="519" r="2.4"/><circle cx="164.5" cy="519" r="2.4"/></g>
<path d="M93.1 447.6V439.4H156.9V501.3" fill="none" stroke="#000" stroke-width="1.4"/>
<path d="M115.9 434.6L115.90 431.70M115.9 434.6L118.61 433.67M115.9 434.6L117.58 436.86M115.9 434.6L114.22 436.86M115.9 434.6L113.19 433.67" stroke="#000" stroke-width="1.25" fill="none"/>
<path d="M123.5 434.6L123.50 431.70M123.5 434.6L126.21 433.67M123.5 434.6L125.18 436.86M123.5 434.6L121.82 436.86M123.5 434.6L120.79 433.67" stroke="#000" stroke-width="1.25" fill="none"/>
<path d="M131.1 434.6L131.10 431.70M131.1 434.6L133.81 433.67M131.1 434.6L132.78 436.86M131.1 434.6L129.42 436.86M131.1 434.6L128.39 433.67" stroke="#000" stroke-width="1.25" fill="none"/>
<path d="M138.7 434.6L138.70 431.70M138.7 434.6L141.41 433.67M138.7 434.6L140.38 436.86M138.7 434.6L137.02 436.86M138.7 434.6L135.99 433.67" stroke="#000" stroke-width="1.25" fill="none"/>
<path d="M93.1 464.4V457.7H128.4V501.3" fill="none" stroke="#000" stroke-width="1.4"/>
<path d="M99.6 452.6L99.60 449.70M99.6 452.6L102.31 451.67M99.6 452.6L101.28 454.86M99.6 452.6L97.92 454.86M99.6 452.6L96.89 451.67" stroke="#000" stroke-width="1.25" fill="none"/>
<path d="M107.2 452.6L107.20 449.70M107.2 452.6L109.91 451.67M107.2 452.6L108.88 454.86M107.2 452.6L105.52 454.86M107.2 452.6L104.49 451.67" stroke="#000" stroke-width="1.25" fill="none"/>
<path d="M114.8 452.6L114.80 449.70M114.8 452.6L117.51 451.67M114.8 452.6L116.48 454.86M114.8 452.6L113.12 454.86M114.8 452.6L112.09 451.67" stroke="#000" stroke-width="1.25" fill="none"/>
<path d="M122.4 452.6L122.40 449.70M122.4 452.6L125.11 451.67M122.4 452.6L124.08 454.86M122.4 452.6L120.72 454.86M122.4 452.6L119.69 451.67" stroke="#000" stroke-width="1.25" fill="none"/>
<text transform="translate(38.2,525) rotate(-90)" font-size="12.4" font-weight="bold" text-anchor="middle">Average CSA (<tspan font-weight="normal">μ</tspan>m<tspan font-size="8.9" dy="-6.2">2</tspan><tspan dy="6.2">)</tspan></text>
<text x="237" y="391" font-size="18" font-weight="bold">F</text>
<text x="371.5" y="395.8" font-size="14.4" font-weight="bold" text-anchor="middle">MYH2 (Type IIA)</text>
<line x1="314.6" x2="314.6" y1="448.2" y2="600.2" stroke="#000" stroke-width="1.5"/>
<line x1="308.6" x2="314.6" y1="599.5" y2="599.5" stroke="#000" stroke-width="1.5"/>
<line x1="308.6" x2="314.6" y1="549.3" y2="549.3" stroke="#000" stroke-width="1.5"/>
<line x1="308.6" x2="314.6" y1="499.1" y2="499.1" stroke="#000" stroke-width="1.5"/>
<line x1="308.6" x2="314.6" y1="448.9" y2="448.9" stroke="#000" stroke-width="1.5"/>
<line x1="311.6" x2="314.6" y1="574.4" y2="574.4" stroke="#000" stroke-width="1.5"/>
<line x1="311.6" x2="314.6" y1="524.2" y2="524.2" stroke="#000" stroke-width="1.5"/>
<line x1="311.6" x2="314.6" y1="474" y2="474" stroke="#000" stroke-width="1.5"/>
<text x="306.6" y="603.9" font-size="11" font-weight="bold" text-anchor="end">0</text>
<text x="306.6" y="553.7" font-size="11" font-weight="bold" text-anchor="end">500</text>
<text x="306.6" y="503.5" font-size="11" font-weight="bold" text-anchor="end">1000</text>
<text x="306.6" y="453.3" font-size="11" font-weight="bold" text-anchor="end">1500</text>
<line x1="308.5" x2="411.5" y1="599.5" y2="599.5" stroke="#000" stroke-width="1.5"/>
<rect x="326" y="465.6" width="18.2" height="133.9" fill="#55a0fe" stroke="#000" stroke-width="1.5"/>
<rect x="355.8" y="511.6" width="18.4" height="87.9" fill="#fec07f" stroke="#000" stroke-width="1.5"/>
<rect x="385.9" y="520.2" width="18.6" height="79.3" fill="#ff9e9e" stroke="#000" stroke-width="1.5"/>
<path d="M335.2 459V471.3M330.2 459H340.2M330.2 471.3H340.2" stroke="#000" stroke-width="1.2" fill="none"/>
<path d="M365 509V513.5M360 509H370M360 513.5H370" stroke="#000" stroke-width="1.2" fill="none"/>
<path d="M395.2 516.3V522.6M390.2 516.3H400.2M390.2 522.6H400.2" stroke="#000" stroke-width="1.2" fill="none"/>
<g fill="#000"><circle cx="330.9" cy="455.4" r="2.4"/><circle cx="339.9" cy="452.3" r="2.4"/><circle cx="339.9" cy="457.4" r="2.4"/><circle cx="335.4" cy="462.7" r="2.4"/><circle cx="335.4" cy="475.8" r="2.4"/><circle cx="335.4" cy="488.7" r="2.4"/><circle cx="357.4" cy="507.3" r="2.4"/><circle cx="365.1" cy="505.7" r="2.4"/><circle cx="372.9" cy="508" r="2.4"/><circle cx="357.4" cy="518.2" r="2.4"/><circle cx="372.9" cy="515.6" r="2.4"/><circle cx="365.1" cy="510.8" r="2.4"/><circle cx="390.5" cy="512.1" r="2.4"/><circle cx="399.7" cy="509.4" r="2.4"/><circle cx="399.7" cy="517.9" r="2.4"/><circle cx="390.5" cy="520.6" r="2.4"/><circle cx="399.7" cy="526.5" r="2.4"/><circle cx="390.5" cy="530.5" r="2.4"/></g>
<path d="M335 430.4V422.7H395.3V499.5" fill="none" stroke="#000" stroke-width="1.4"/>
<path d="M358.2 416.7L358.20 413.80M358.2 416.7L360.91 415.77M358.2 416.7L359.88 418.96M358.2 416.7L356.52 418.96M358.2 416.7L355.49 415.77" stroke="#000" stroke-width="1.25" fill="none"/>
<path d="M365.8 416.7L365.80 413.80M365.8 416.7L368.51 415.77M365.8 416.7L367.48 418.96M365.8 416.7L364.12 418.96M365.8 416.7L363.09 415.77" stroke="#000" stroke-width="1.25" fill="none"/>
<path d="M373.4 416.7L373.40 413.80M373.4 416.7L376.11 415.77M373.4 416.7L375.08 418.96M373.4 416.7L371.72 418.96M373.4 416.7L370.69 415.77" stroke="#000" stroke-width="1.25" fill="none"/>
<path d="M381 416.7L381.00 413.80M381 416.7L383.71 415.77M381 416.7L382.68 418.96M381 416.7L379.32 418.96M381 416.7L378.29 415.77" stroke="#000" stroke-width="1.25" fill="none"/>
<path d="M335 447.8V440.7H365V500" fill="none" stroke="#000" stroke-width="1.4"/>
<path d="M341.6 435.5L341.60 432.60M341.6 435.5L344.31 434.57M341.6 435.5L343.28 437.76M341.6 435.5L339.92 437.76M341.6 435.5L338.89 434.57" stroke="#000" stroke-width="1.25" fill="none"/>
<path d="M349.2 435.5L349.20 432.60M349.2 435.5L351.91 434.57M349.2 435.5L350.88 437.76M349.2 435.5L347.52 437.76M349.2 435.5L346.49 434.57" stroke="#000" stroke-width="1.25" fill="none"/>
<path d="M356.8 435.5L356.80 432.60M356.8 435.5L359.51 434.57M356.8 435.5L358.48 437.76M356.8 435.5L355.12 437.76M356.8 435.5L354.09 434.57" stroke="#000" stroke-width="1.25" fill="none"/>
<path d="M364.4 435.5L364.40 432.60M364.4 435.5L367.11 434.57M364.4 435.5L366.08 437.76M364.4 435.5L362.72 437.76M364.4 435.5L361.69 434.57" stroke="#000" stroke-width="1.25" fill="none"/>
<text transform="translate(276,524) rotate(-90)" font-size="12.4" font-weight="bold" text-anchor="middle">Average CSA (<tspan font-weight="normal">μ</tspan>m<tspan font-size="8.9" dy="-6.2">2</tspan><tspan dy="6.2">)</tspan></text>
<text x="461.5" y="391" font-size="18" font-weight="bold">G</text>
<text x="585" y="395.8" font-size="14.4" font-weight="bold" text-anchor="middle">MYH4 (Type IIB)</text>
<line x1="537.8" x2="537.8" y1="448.7" y2="600.4" stroke="#000" stroke-width="1.5"/>
<line x1="531.8" x2="537.8" y1="599.7" y2="599.7" stroke="#000" stroke-width="1.5"/>
<line x1="531.8" x2="537.8" y1="569.6" y2="569.6" stroke="#000" stroke-width="1.5"/>
<line x1="531.8" x2="537.8" y1="539.6" y2="539.6" stroke="#000" stroke-width="1.5"/>
<line x1="531.8" x2="537.8" y1="509.5" y2="509.5" stroke="#000" stroke-width="1.5"/>
<line x1="531.8" x2="537.8" y1="479.5" y2="479.5" stroke="#000" stroke-width="1.5"/>
<line x1="531.8" x2="537.8" y1="449.4" y2="449.4" stroke="#000" stroke-width="1.5"/>
<line x1="534.8" x2="537.8" y1="584.7" y2="584.7" stroke="#000" stroke-width="1.5"/>
<line x1="534.8" x2="537.8" y1="554.6" y2="554.6" stroke="#000" stroke-width="1.5"/>
<line x1="534.8" x2="537.8" y1="524.6" y2="524.6" stroke="#000" stroke-width="1.5"/>
<line x1="534.8" x2="537.8" y1="494.5" y2="494.5" stroke="#000" stroke-width="1.5"/>
<line x1="534.8" x2="537.8" y1="464.4" y2="464.4" stroke="#000" stroke-width="1.5"/>
<text x="529.8" y="604.1" font-size="11" font-weight="bold" text-anchor="end">0</text>
<text x="529.8" y="574" font-size="11" font-weight="bold" text-anchor="end">1000</text>
<text x="529.8" y="543.9" font-size="11" font-weight="bold" text-anchor="end">2000</text>
<text x="529.8" y="513.9" font-size="11" font-weight="bold" text-anchor="end">3000</text>
<text x="529.8" y="483.8" font-size="11" font-weight="bold" text-anchor="end">4000</text>
<text x="529.8" y="453.8" font-size="11" font-weight="bold" text-anchor="end">5000</text>
<line x1="531.7" x2="637" y1="599.7" y2="599.7" stroke="#000" stroke-width="1.5"/>
<rect x="549.4" y="490" width="18.7" height="109.7" fill="#55a0fe" stroke="#000" stroke-width="1.5"/>
<rect x="579.7" y="535.8" width="18.4" height="63.9" fill="#fec07f" stroke="#000" stroke-width="1.5"/>
<rect x="609.7" y="521.4" width="18.7" height="78.3" fill="#ff9e9e" stroke="#000" stroke-width="1.5"/>
<path d="M558.8 483.2V493.8M553.8 483.2H563.8M553.8 493.8H563.8" stroke="#000" stroke-width="1.2" fill="none"/>
<path d="M588.9 532.3V538.5M583.9 532.3H593.9M583.9 538.5H593.9" stroke="#000" stroke-width="1.2" fill="none"/>
<path d="M619 518V524M614 518H624M614 524H624" stroke="#000" stroke-width="1.2" fill="none"/>
<g fill="#000"><circle cx="554.2" cy="472.3" r="2.4"/><circle cx="563.4" cy="475" r="2.4"/><circle cx="558.9" cy="489.3" r="2.4"/><circle cx="554.2" cy="494.2" r="2.4"/><circle cx="563.4" cy="498.9" r="2.4"/><circle cx="554.2" cy="501" r="2.4"/><circle cx="588.5" cy="526" r="2.4"/><circle cx="581.1" cy="531.7" r="2.4"/><circle cx="596.1" cy="533.1" r="2.4"/><circle cx="588.5" cy="537.8" r="2.4"/><circle cx="581.1" cy="541.9" r="2.4"/><circle cx="596.1" cy="540.9" r="2.4"/><circle cx="614.4" cy="511.9" r="2.4"/><circle cx="623.2" cy="513.9" r="2.4"/><circle cx="623.2" cy="519.8" r="2.4"/><circle cx="614.4" cy="522.5" r="2.4"/><circle cx="623.2" cy="526.1" r="2.4"/><circle cx="618.7" cy="530.7" r="2.4"/></g>
<path d="M558.7 438.5V429.8H619.1V506.1" fill="none" stroke="#000" stroke-width="1.4"/>
<path d="M581.9 423.6L581.90 420.70M581.9 423.6L584.61 422.67M581.9 423.6L583.58 425.86M581.9 423.6L580.22 425.86M581.9 423.6L579.19 422.67" stroke="#000" stroke-width="1.25" fill="none"/>
<path d="M589.5 423.6L589.50 420.70M589.5 423.6L592.21 422.67M589.5 423.6L591.18 425.86M589.5 423.6L587.82 425.86M589.5 423.6L586.79 422.67" stroke="#000" stroke-width="1.25" fill="none"/>
<path d="M597.1 423.6L597.10 420.70M597.1 423.6L599.81 422.67M597.1 423.6L598.78 425.86M597.1 423.6L595.42 425.86M597.1 423.6L594.39 422.67" stroke="#000" stroke-width="1.25" fill="none"/>
<path d="M604.7 423.6L604.70 420.70M604.7 423.6L607.41 422.67M604.7 423.6L606.38 425.86M604.7 423.6L603.02 425.86M604.7 423.6L601.99 422.67" stroke="#000" stroke-width="1.25" fill="none"/>
<path d="M558.7 455.5V448.3H588.5V516.3" fill="none" stroke="#000" stroke-width="1.4"/>
<path d="M564.9 443.4L564.90 440.50M564.9 443.4L567.61 442.47M564.9 443.4L566.58 445.66M564.9 443.4L563.22 445.66M564.9 443.4L562.19 442.47" stroke="#000" stroke-width="1.25" fill="none"/>
<path d="M572.5 443.4L572.50 440.50M572.5 443.4L575.21 442.47M572.5 443.4L574.18 445.66M572.5 443.4L570.82 445.66M572.5 443.4L569.79 442.47" stroke="#000" stroke-width="1.25" fill="none"/>
<path d="M580.1 443.4L580.10 440.50M580.1 443.4L582.81 442.47M580.1 443.4L581.78 445.66M580.1 443.4L578.42 445.66M580.1 443.4L577.39 442.47" stroke="#000" stroke-width="1.25" fill="none"/>
<path d="M587.7 443.4L587.70 440.50M587.7 443.4L590.41 442.47M587.7 443.4L589.38 445.66M587.7 443.4L586.02 445.66M587.7 443.4L584.99 442.47" stroke="#000" stroke-width="1.25" fill="none"/>
<text transform="translate(496,523.4) rotate(-90)" font-size="12.4" font-weight="bold" text-anchor="middle">Average CSA (<tspan font-weight="normal">μ</tspan>m<tspan font-size="8.9" dy="-6.2">2</tspan><tspan dy="6.2">)</tspan></text>
</svg></body></html>
